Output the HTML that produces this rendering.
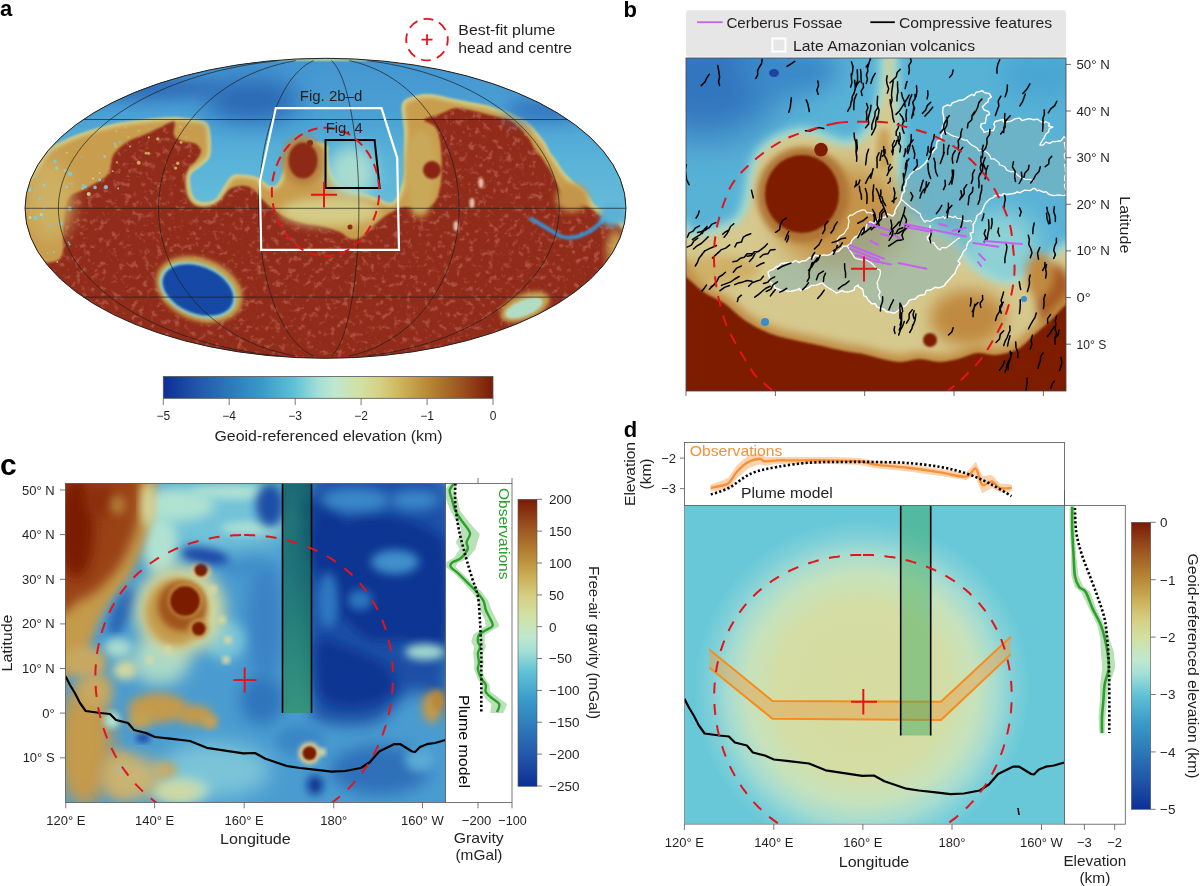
<!DOCTYPE html>
<html><head><meta charset="utf-8"><title>Figure</title>
<style>html,body{margin:0;padding:0;background:#fff;width:1200px;height:886px;overflow:hidden}svg{display:block}text{font-family:'Liberation Sans', Arial, sans-serif}</style>
</head><body>
<svg width="1200" height="886" viewBox="0 0 1200 886" font-family="'Liberation Sans', Arial, sans-serif">
<defs><clipPath id="mollclip"><ellipse cx="325.5" cy="208.3" rx="300.5" ry="150.0"/></clipPath><filter id="b1" x="-20%" y="-20%" width="140%" height="140%"><feGaussianBlur stdDeviation="1"/></filter><filter id="b2" x="-20%" y="-20%" width="140%" height="140%"><feGaussianBlur stdDeviation="2"/></filter><filter id="b3" x="-20%" y="-20%" width="140%" height="140%"><feGaussianBlur stdDeviation="3"/></filter><filter id="b5" x="-30%" y="-30%" width="160%" height="160%"><feGaussianBlur stdDeviation="5"/></filter><filter id="b8" x="-50%" y="-50%" width="200%" height="200%"><feGaussianBlur stdDeviation="8"/></filter><filter id="b12" x="-50%" y="-50%" width="200%" height="200%"><feGaussianBlur stdDeviation="12"/></filter><filter id="speck" x="0" y="0" width="100%" height="100%" color-interpolation-filters="sRGB"><feTurbulence type="fractalNoise" baseFrequency="0.16" numOctaves="3" seed="5" result="n"/><feColorMatrix in="n" type="matrix" values="0 0 0 0 0.85  0 0 0 0 0.55  0 0 0 0 0.5  4.5 0 0 0 -2.45"/></filter><linearGradient id="elevH" x1="0" y1="0" x2="1" y2="0"><stop offset="0" stop-color="#0c2f94"/><stop offset="0.1" stop-color="#2155a8"/><stop offset="0.2" stop-color="#2d78b8"/><stop offset="0.3" stop-color="#3a9ac8"/><stop offset="0.4" stop-color="#62c2d6"/><stop offset="0.47" stop-color="#a2dfd6"/><stop offset="0.52" stop-color="#bfe8cf"/><stop offset="0.6" stop-color="#d2e0a0"/><stop offset="0.66" stop-color="#d6cf84"/><stop offset="0.72" stop-color="#cdb45c"/><stop offset="0.8" stop-color="#b88a38"/><stop offset="0.9" stop-color="#9c5520"/><stop offset="1.0" stop-color="#7a1a06"/></linearGradient><linearGradient id="elevV" x1="0" y1="1" x2="0" y2="0"><stop offset="0" stop-color="#0c2f94"/><stop offset="0.1" stop-color="#2155a8"/><stop offset="0.2" stop-color="#2d78b8"/><stop offset="0.3" stop-color="#3a9ac8"/><stop offset="0.4" stop-color="#62c2d6"/><stop offset="0.47" stop-color="#a2dfd6"/><stop offset="0.52" stop-color="#bfe8cf"/><stop offset="0.6" stop-color="#d2e0a0"/><stop offset="0.66" stop-color="#d6cf84"/><stop offset="0.72" stop-color="#cdb45c"/><stop offset="0.8" stop-color="#b88a38"/><stop offset="0.9" stop-color="#9c5520"/><stop offset="1.0" stop-color="#7a1a06"/></linearGradient><linearGradient id="northblue" x1="0" y1="60" x2="0" y2="210" gradientUnits="userSpaceOnUse"><stop offset="0" stop-color="#4496d0"/><stop offset="0.35" stop-color="#4aa0d4"/><stop offset="0.65" stop-color="#58b2d8"/><stop offset="1" stop-color="#66bcd9"/></linearGradient><clipPath id="bclip"><rect x="686" y="58" width="380" height="333"/></clipPath><filter id="bb20" x="-50%" y="-50%" width="200%" height="200%"><feGaussianBlur stdDeviation="20"/></filter><clipPath id="cclip"><rect x="65.5" y="483.5" width="380.0" height="319.0"/></clipPath><filter id="b4" x="-50%" y="-50%" width="200%" height="200%"><feGaussianBlur stdDeviation="4"/></filter><filter id="b6" x="-50%" y="-50%" width="200%" height="200%"><feGaussianBlur stdDeviation="6"/></filter><filter id="b10" x="-50%" y="-50%" width="200%" height="200%"><feGaussianBlur stdDeviation="10"/></filter><linearGradient id="stripg" x1="0" y1="484" x2="0" y2="713" gradientUnits="userSpaceOnUse"><stop offset="0" stop-color="#0c5a5c"/><stop offset="0.4" stop-color="#166c62"/><stop offset="1" stop-color="#2f9468"/></linearGradient><clipPath id="csideclip"><rect x="445.5" y="483.5" width="66.5" height="319"/></clipPath><clipPath id="dclip"><rect x="684.4" y="505.5" width="380.1" height="318.70000000000005"/></clipPath><radialGradient id="dgrad" cx="862" cy="688" r="168" gradientUnits="userSpaceOnUse"><stop offset="0" stop-color="#d6dba0"/><stop offset="0.5" stop-color="#d4dda4"/><stop offset="0.68" stop-color="#c6e2bc"/><stop offset="0.8" stop-color="#a6dcd0"/><stop offset="0.9" stop-color="#80d0d8"/><stop offset="1" stop-color="#68c8d8"/></radialGradient></defs>
<g clip-path="url(#mollclip)"><rect x="20" y="50" width="615" height="315" fill="#922c1a"/><rect x="20" y="50" width="615" height="315" filter="url(#speck)" opacity="0.38"/><path d="M10.0,262.0 C12.5,300.7 16.7,262.5 25.0,262.0 C33.3,261.5 53.4,265.0 59.7,259.0 C66.0,253.0 62.1,234.5 63.0,226.0 C63.9,217.5 63.8,213.0 65.0,208.0 C66.2,203.0 67.5,199.0 70.5,196.0 C73.5,193.0 78.8,192.2 83.0,190.0 C87.2,187.8 92.1,185.3 96.0,183.0 C99.9,180.7 104.3,178.4 106.6,176.0 C108.9,173.6 108.8,172.3 110.0,168.6 C111.2,164.9 111.0,158.5 114.0,154.0 C117.0,149.5 122.7,144.8 128.0,141.5 C133.3,138.2 140.5,136.4 146.0,134.0 C151.5,131.6 157.0,129.0 161.0,127.0 C165.0,125.0 167.7,123.0 170.0,122.0 C172.3,121.0 174.3,118.8 175.0,121.0 C175.7,123.2 172.8,131.7 174.0,135.0 C175.2,138.3 178.5,139.6 182.0,141.0 C185.5,142.4 191.8,141.8 195.0,143.5 C198.2,145.2 201.0,147.9 201.0,151.0 C201.0,154.1 197.1,158.9 195.0,162.0 C192.9,165.1 190.1,166.7 188.6,169.6 C187.1,172.5 186.2,175.4 186.0,179.6 C185.8,183.8 185.9,190.4 187.4,194.5 C188.9,198.6 191.5,202.5 194.8,204.4 C198.1,206.3 203.2,206.5 207.3,205.7 C211.5,204.9 216.4,201.9 219.7,199.4 C223.0,196.9 224.5,192.8 227.0,190.7 C229.5,188.6 231.7,187.8 234.6,187.0 C237.5,186.2 241.2,185.4 244.5,185.8 C247.8,186.2 252.0,187.6 254.5,189.5 C257.0,191.4 258.3,195.6 259.4,197.0 C260.5,198.4 259.6,196.7 261.0,198.0 C262.4,199.3 265.3,202.7 268.0,205.0 C270.7,207.3 274.0,210.0 277.0,212.0 C280.0,214.0 281.5,215.2 286.0,217.0 C290.5,218.8 298.0,221.5 304.0,223.0 C310.0,224.5 316.0,224.5 322.0,226.0 C328.0,227.5 335.2,229.8 340.0,232.0 C344.8,234.2 347.3,238.2 351.0,239.0 C354.7,239.8 358.3,239.2 362.0,237.0 C365.7,234.8 369.2,229.5 373.0,226.0 C376.8,222.5 380.5,219.0 385.0,216.0 C389.5,213.0 395.8,209.5 400.0,208.0 C404.2,206.5 406.7,207.0 410.0,207.0 C413.3,207.0 417.3,207.8 420.0,208.0 C422.7,208.2 423.3,209.3 426.0,208.0 C428.7,206.7 433.5,204.7 436.0,200.0 C438.5,195.3 440.2,188.3 441.0,180.0 C441.8,171.7 441.8,158.7 441.0,150.0 C440.2,141.3 438.8,133.0 436.0,128.0 C433.2,123.0 423.3,122.3 424.0,120.0 C424.7,117.7 434.7,116.0 440.0,114.0 C445.3,112.0 450.3,108.5 456.0,108.0 C461.7,107.5 467.7,109.7 474.0,111.0 C480.3,112.3 488.0,114.5 494.0,116.0 C500.0,117.5 505.7,118.0 510.0,120.0 C514.3,122.0 516.7,124.7 520.0,128.0 C523.3,131.3 527.7,136.7 530.0,140.0 C532.3,143.3 532.0,145.0 534.0,148.0 C536.0,151.0 539.3,154.3 542.0,158.0 C544.7,161.7 547.7,166.0 550.0,170.0 C552.3,174.0 554.0,178.3 556.0,182.0 C558.0,185.7 558.8,189.0 562.0,192.0 C565.2,195.0 570.3,197.3 575.0,200.0 C579.7,202.7 585.8,205.5 590.0,208.0 C594.2,210.5 595.8,212.7 600.0,215.0 C604.2,217.3 608.3,220.3 615.0,222.0 C621.7,223.7 635.8,257.0 640.0,225.0 C644.2,193.0 745.0,62.5 640.0,30.0 C535.0,-2.5 115.0,-8.7 10.0,30.0 C-95.0,68.7 7.5,223.3 10.0,262.0 Z" fill="#c89d4e" filter="url(#b1)"/><ellipse cx="50" cy="200" rx="22" ry="40" fill="#cdb062" filter="url(#b8)"/><path d="M10.0,190.0 C13.7,213.7 25.8,178.6 32.0,172.0 C38.2,165.4 41.5,155.9 47.0,150.5 C52.5,145.1 59.0,142.7 65.0,139.7 C71.0,136.7 77.0,134.6 83.0,132.5 C89.0,130.4 95.0,128.7 101.0,127.0 C107.0,125.3 113.0,123.8 119.0,122.6 C125.0,121.4 131.0,120.8 137.0,120.0 C143.0,119.2 149.0,118.5 155.0,118.0 C161.0,117.5 168.5,117.1 173.0,117.0 C177.5,116.9 177.3,117.0 182.0,117.5 C186.7,118.0 196.6,118.8 201.0,120.0 C205.4,121.2 206.8,121.5 208.5,125.0 C210.2,128.5 210.8,135.7 211.0,141.0 C211.2,146.3 211.5,152.8 209.8,157.0 C208.1,161.2 204.1,163.1 201.0,166.0 C197.9,168.9 192.8,171.5 191.0,174.6 C189.2,177.7 190.1,180.8 190.5,184.5 C190.9,188.2 191.6,194.1 193.6,197.0 C195.6,199.9 198.8,201.6 202.3,202.0 C205.8,202.4 211.4,201.5 214.7,199.4 C218.0,197.3 219.7,192.8 222.0,189.5 C224.3,186.2 226.3,182.1 228.4,179.6 C230.5,177.1 231.9,175.4 234.6,174.6 C237.3,173.8 240.8,174.2 244.5,174.6 C248.2,175.0 253.7,175.8 257.0,177.0 C260.3,178.2 262.2,180.5 264.4,182.0 C266.6,183.5 267.9,185.6 270.0,186.0 C272.1,186.4 274.9,186.4 277.0,184.3 C279.1,182.2 281.0,177.6 282.5,173.3 C284.0,169.0 284.5,163.0 286.0,158.7 C287.5,154.4 288.9,150.5 291.7,147.7 C294.5,144.9 298.4,142.9 302.7,142.0 C307.0,141.1 313.1,141.3 317.3,142.0 C321.5,142.7 326.2,143.8 328.0,146.0 C329.8,148.2 327.3,150.4 328.0,155.0 C328.7,159.6 328.9,167.8 332.0,173.3 C335.1,178.8 341.2,184.6 346.7,188.0 C352.2,191.4 359.5,191.7 365.0,193.5 C370.5,195.3 375.4,197.5 379.7,199.0 C384.0,200.5 387.6,203.4 390.7,202.7 C393.8,202.0 395.8,199.6 398.0,195.0 C400.2,190.4 403.0,182.5 404.0,175.0 C405.0,167.5 404.0,157.5 404.0,150.0 C404.0,142.5 404.3,137.7 404.0,130.0 C403.7,122.3 400.3,109.7 402.0,104.0 C403.7,98.3 409.3,97.7 414.0,96.0 C418.7,94.3 424.0,93.7 430.0,94.0 C436.0,94.3 443.3,96.7 450.0,98.0 C456.7,99.3 464.0,100.8 470.0,102.0 C476.0,103.2 480.7,103.7 486.0,105.0 C491.3,106.3 496.7,108.2 502.0,110.0 C507.3,111.8 513.3,113.7 518.0,116.0 C522.7,118.3 526.3,120.7 530.0,124.0 C533.7,127.3 537.3,132.7 540.0,136.0 C542.7,139.3 544.3,141.3 546.0,144.0 C547.7,146.7 548.3,149.3 550.0,152.0 C551.7,154.7 553.7,156.7 556.0,160.0 C558.3,163.3 561.0,168.3 564.0,172.0 C567.0,175.7 570.7,179.0 574.0,182.0 C577.3,185.0 581.3,187.3 584.0,190.0 C586.7,192.7 588.0,195.3 590.0,198.0 C592.0,200.7 592.7,203.7 596.0,206.0 C599.3,208.3 602.7,210.5 610.0,212.0 C617.3,213.5 635.0,245.3 640.0,215.0 C645.0,184.7 745.0,60.8 640.0,30.0 C535.0,-0.8 115.0,3.3 10.0,30.0 C-95.0,56.7 6.3,166.3 10.0,190.0 Z" fill="none" stroke="#d3d08a" stroke-width="7" filter="url(#b2)"/><path d="M10.0,190.0 C13.7,213.7 25.8,178.6 32.0,172.0 C38.2,165.4 41.5,155.9 47.0,150.5 C52.5,145.1 59.0,142.7 65.0,139.7 C71.0,136.7 77.0,134.6 83.0,132.5 C89.0,130.4 95.0,128.7 101.0,127.0 C107.0,125.3 113.0,123.8 119.0,122.6 C125.0,121.4 131.0,120.8 137.0,120.0 C143.0,119.2 149.0,118.5 155.0,118.0 C161.0,117.5 168.5,117.1 173.0,117.0 C177.5,116.9 177.3,117.0 182.0,117.5 C186.7,118.0 196.6,118.8 201.0,120.0 C205.4,121.2 206.8,121.5 208.5,125.0 C210.2,128.5 210.8,135.7 211.0,141.0 C211.2,146.3 211.5,152.8 209.8,157.0 C208.1,161.2 204.1,163.1 201.0,166.0 C197.9,168.9 192.8,171.5 191.0,174.6 C189.2,177.7 190.1,180.8 190.5,184.5 C190.9,188.2 191.6,194.1 193.6,197.0 C195.6,199.9 198.8,201.6 202.3,202.0 C205.8,202.4 211.4,201.5 214.7,199.4 C218.0,197.3 219.7,192.8 222.0,189.5 C224.3,186.2 226.3,182.1 228.4,179.6 C230.5,177.1 231.9,175.4 234.6,174.6 C237.3,173.8 240.8,174.2 244.5,174.6 C248.2,175.0 253.7,175.8 257.0,177.0 C260.3,178.2 262.2,180.5 264.4,182.0 C266.6,183.5 267.9,185.6 270.0,186.0 C272.1,186.4 274.9,186.4 277.0,184.3 C279.1,182.2 281.0,177.6 282.5,173.3 C284.0,169.0 284.5,163.0 286.0,158.7 C287.5,154.4 288.9,150.5 291.7,147.7 C294.5,144.9 298.4,142.9 302.7,142.0 C307.0,141.1 313.1,141.3 317.3,142.0 C321.5,142.7 326.2,143.8 328.0,146.0 C329.8,148.2 327.3,150.4 328.0,155.0 C328.7,159.6 328.9,167.8 332.0,173.3 C335.1,178.8 341.2,184.6 346.7,188.0 C352.2,191.4 359.5,191.7 365.0,193.5 C370.5,195.3 375.4,197.5 379.7,199.0 C384.0,200.5 387.6,203.4 390.7,202.7 C393.8,202.0 395.8,199.6 398.0,195.0 C400.2,190.4 403.0,182.5 404.0,175.0 C405.0,167.5 404.0,157.5 404.0,150.0 C404.0,142.5 404.3,137.7 404.0,130.0 C403.7,122.3 400.3,109.7 402.0,104.0 C403.7,98.3 409.3,97.7 414.0,96.0 C418.7,94.3 424.0,93.7 430.0,94.0 C436.0,94.3 443.3,96.7 450.0,98.0 C456.7,99.3 464.0,100.8 470.0,102.0 C476.0,103.2 480.7,103.7 486.0,105.0 C491.3,106.3 496.7,108.2 502.0,110.0 C507.3,111.8 513.3,113.7 518.0,116.0 C522.7,118.3 526.3,120.7 530.0,124.0 C533.7,127.3 537.3,132.7 540.0,136.0 C542.7,139.3 544.3,141.3 546.0,144.0 C547.7,146.7 548.3,149.3 550.0,152.0 C551.7,154.7 553.7,156.7 556.0,160.0 C558.3,163.3 561.0,168.3 564.0,172.0 C567.0,175.7 570.7,179.0 574.0,182.0 C577.3,185.0 581.3,187.3 584.0,190.0 C586.7,192.7 588.0,195.3 590.0,198.0 C592.0,200.7 592.7,203.7 596.0,206.0 C599.3,208.3 602.7,210.5 610.0,212.0 C617.3,213.5 635.0,245.3 640.0,215.0 C645.0,184.7 745.0,60.8 640.0,30.0 C535.0,-0.8 115.0,3.3 10.0,30.0 C-95.0,56.7 6.3,166.3 10.0,190.0 Z" fill="url(#northblue)" filter="url(#b1)"/><ellipse cx="252" cy="100" rx="48" ry="22" fill="#2a68b5" filter="url(#b12)"/><ellipse cx="140" cy="88" rx="85" ry="12" fill="#2f6cb8" filter="url(#b8)"/><ellipse cx="545" cy="110" rx="40" ry="12" fill="#3478c0" filter="url(#b8)"/><ellipse cx="330" cy="59" rx="110" ry="2" fill="#b0d0a0" filter="url(#b1)"/><ellipse cx="352" cy="172" rx="24" ry="26" fill="#a8dcd0" filter="url(#b8)"/><ellipse cx="330" cy="212" rx="50" ry="14" fill="#d4cc86" filter="url(#b5)"/><ellipse cx="303" cy="161" rx="21" ry="25" fill="#b88440" filter="url(#b3)"/><ellipse cx="303" cy="160.5" rx="14.5" ry="18" fill="#8c2a14" filter="url(#b1)"/><circle cx="310" cy="143" r="3" fill="#8c2a14"/><circle cx="350" cy="227" r="2.5" fill="#8c2a14"/><ellipse cx="421" cy="168" rx="16" ry="38" fill="#c9a85a" filter="url(#b3)"/><ellipse cx="420" cy="205" rx="10" ry="12" fill="#c9a85a" filter="url(#b3)"/><circle cx="432" cy="170" r="9" fill="#8a2414" filter="url(#b1)"/><ellipse cx="481" cy="183" rx="2.5" ry="5" fill="#e8c0b0" filter="url(#b1)"/><ellipse cx="472" cy="203" rx="2.5" ry="5" fill="#e8c0b0" filter="url(#b1)"/><ellipse cx="456" cy="226" rx="2.5" ry="5" fill="#e8c0b0" filter="url(#b1)"/><ellipse cx="572" cy="198" rx="16" ry="14" fill="#c49648" filter="url(#b3)"/><path d="M530,218 C540,224 550,230 560,236 C570,240 582,236 592,230 C600,224 606,218 610,210" fill="none" stroke="#3d8ecb" stroke-width="4" filter="url(#b1)"/><ellipse cx="612" cy="215" rx="12" ry="12" fill="#5ab0d6" filter="url(#b3)"/><ellipse cx="616" cy="250" rx="9" ry="20" fill="#c8a050" filter="url(#b5)"/><g opacity="0.9"><circle cx="69.6" cy="208.3" r="2.1" fill="#7ecad8"/><circle cx="69.6" cy="244.3" r="1.1" fill="#7ecad8"/><circle cx="36.7" cy="177.0" r="0.9" fill="#7ecad8"/><circle cx="82.8" cy="188.3" r="1.4" fill="#8fd2d4"/><circle cx="33.8" cy="144.3" r="2.0" fill="#7ecad8"/><circle cx="99.6" cy="179.8" r="1.6" fill="#8fd2d4"/><circle cx="70.1" cy="173.9" r="2.2" fill="#7ecad8"/><circle cx="93.1" cy="178.5" r="1.1" fill="#d6d68e"/><circle cx="30.7" cy="208.7" r="1.0" fill="#7ecad8"/><circle cx="105.9" cy="187.2" r="2.1" fill="#7ecad8"/><circle cx="47.6" cy="253.1" r="0.9" fill="#7ecad8"/><circle cx="118.2" cy="188.5" r="0.9" fill="#8fd2d4"/><circle cx="99.6" cy="172.9" r="0.9" fill="#d6d68e"/><circle cx="29.4" cy="190.0" r="2.1" fill="#8fd2d4"/><circle cx="50.7" cy="152.3" r="0.9" fill="#7ecad8"/><circle cx="44.3" cy="208.2" r="1.4" fill="#8fd2d4"/><circle cx="66.6" cy="186.8" r="1.4" fill="#8fd2d4"/><circle cx="28.0" cy="245.4" r="2.2" fill="#d6d68e"/><circle cx="119.8" cy="142.4" r="1.1" fill="#7ecad8"/><circle cx="31.9" cy="157.9" r="1.4" fill="#7ecad8"/><circle cx="99.1" cy="180.1" r="1.2" fill="#7ecad8"/><circle cx="34.8" cy="165.5" r="1.7" fill="#7ecad8"/><circle cx="83.3" cy="185.3" r="1.4" fill="#7ecad8"/><circle cx="104.6" cy="156.6" r="1.3" fill="#8fd2d4"/><circle cx="56.6" cy="167.9" r="1.7" fill="#8fd2d4"/><circle cx="42.6" cy="216.7" r="1.6" fill="#7ecad8"/><circle cx="66.8" cy="152.7" r="0.9" fill="#d6d68e"/><circle cx="49.9" cy="226.0" r="1.2" fill="#7ecad8"/><circle cx="55.0" cy="161.4" r="1.8" fill="#7ecad8"/><circle cx="39.6" cy="198.5" r="1.7" fill="#7ecad8"/><circle cx="53.8" cy="251.9" r="1.1" fill="#7ecad8"/><circle cx="34.4" cy="190.2" r="1.1" fill="#7ecad8"/><circle cx="44.2" cy="185.0" r="1.6" fill="#8fd2d4"/><circle cx="36.5" cy="156.9" r="1.4" fill="#d6d68e"/><circle cx="81.8" cy="157.1" r="0.8" fill="#7ecad8"/><circle cx="71.7" cy="183.6" r="1.2" fill="#7ecad8"/><circle cx="30.0" cy="217.6" r="1.5" fill="#d6d68e"/><circle cx="57.3" cy="261.9" r="0.9" fill="#d6d68e"/><circle cx="60.4" cy="223.6" r="2.1" fill="#7ecad8"/><circle cx="114.9" cy="143.7" r="1.5" fill="#7ecad8"/><circle cx="85.5" cy="186.6" r="1.6" fill="#7ecad8"/><circle cx="35.4" cy="218.0" r="2.2" fill="#7ecad8"/><circle cx="95.0" cy="187.4" r="1.8" fill="#7ecad8"/><circle cx="68.5" cy="242.3" r="0.9" fill="#7ecad8"/><circle cx="56.5" cy="150.7" r="0.8" fill="#7ecad8"/><circle cx="112.7" cy="171.2" r="0.8" fill="#d6d68e"/><circle cx="41.2" cy="214.6" r="1.5" fill="#d6d68e"/><circle cx="88.7" cy="193.9" r="2.0" fill="#d6d68e"/><circle cx="65.2" cy="170.6" r="1.7" fill="#8fd2d4"/><circle cx="181.0" cy="142.3" r="1.5" fill="#d0b468"/><circle cx="138.7" cy="131.1" r="1.4" fill="#d0b468"/><circle cx="177.8" cy="163.2" r="1.7" fill="#d0b468"/><circle cx="186.3" cy="137.5" r="1.0" fill="#d0b468"/><circle cx="148.8" cy="137.4" r="1.1" fill="#d0b468"/><circle cx="146.0" cy="153.2" r="1.4" fill="#d0b468"/><circle cx="138.7" cy="162.8" r="2.0" fill="#d0b468"/><circle cx="148.9" cy="128.4" r="0.8" fill="#d0b468"/><circle cx="180.5" cy="126.9" r="1.7" fill="#d0b468"/><circle cx="157.8" cy="138.9" r="1.7" fill="#d0b468"/><circle cx="116.4" cy="131.1" r="1.3" fill="#d0b468"/><circle cx="116.9" cy="162.3" r="1.1" fill="#d0b468"/><circle cx="125.6" cy="127.1" r="1.6" fill="#d0b468"/><circle cx="148.5" cy="153.3" r="1.6" fill="#d0b468"/><circle cx="175.6" cy="168.1" r="1.6" fill="#d0b468"/><circle cx="130.0" cy="146.4" r="1.0" fill="#d0b468"/><circle cx="115.8" cy="146.2" r="1.7" fill="#d0b468"/><circle cx="128.4" cy="137.3" r="1.2" fill="#d0b468"/></g><ellipse cx="199" cy="289" rx="45" ry="31" transform="rotate(22 198 290)" fill="#c4a050" filter="url(#b2)"/><ellipse cx="198" cy="290" rx="40" ry="26" transform="rotate(22 198 290)" fill="#8fd0c8" filter="url(#b1)"/><ellipse cx="198" cy="290" rx="37" ry="23.5" transform="rotate(22 198 290)" fill="#1848a6" filter="url(#b1)"/><ellipse cx="525" cy="307" rx="26" ry="13" transform="rotate(-22 525 307)" fill="#c4a050" filter="url(#b2)"/><ellipse cx="524" cy="308" rx="20" ry="8" transform="rotate(-22 524 308)" fill="#b2dcc4" filter="url(#b1)"/></g>
<g fill="none" stroke="#1a1a1a" stroke-width="0.8" stroke-opacity="0.85"><polyline points="277.8,355.9 263.2,354.2 250.2,352.2 238.4,350.1 227.5,347.8 217.3,345.5 207.7,342.9 198.7,340.3 190.1,337.6 181.9,334.8 174.1,331.9 166.6,328.9 159.5,325.8 152.6,322.7 146.1,319.4 139.9,316.2 133.9,312.8 128.2,309.4 122.8,306.0 117.6,302.5 112.6,298.9 107.9,295.3 103.4,291.6 99.2,287.9 95.1,284.2 91.3,280.4 87.7,276.6 84.3,272.8 81.2,268.9 78.2,265.0 75.5,261.1 72.9,257.1 70.6,253.1 68.5,249.1 66.5,245.1 64.8,241.0 63.3,237.0 62.0,232.9 60.9,228.8 60.0,224.7 59.3,220.6 58.8,216.5 58.5,212.4 58.4,208.3 58.5,204.2 58.8,200.1 59.3,196.0 60.0,191.9 60.9,187.8 62.0,183.7 63.3,179.6 64.8,175.6 66.5,171.5 68.5,167.5 70.6,163.5 72.9,159.5 75.5,155.5 78.2,151.6 81.2,147.7 84.3,143.8 87.7,140.0 91.3,136.2 95.1,132.4 99.2,128.7 103.4,125.0 107.9,121.3 112.6,117.7 117.6,114.1 122.8,110.6 128.2,107.2 133.9,103.8 139.9,100.4 146.1,97.2 152.6,93.9 159.5,90.8 166.6,87.7 174.1,84.7 181.9,81.8 190.1,79.0 198.7,76.3 207.7,73.7 217.3,71.1 227.5,68.8 238.4,66.5 250.2,64.4 263.2,62.4 277.8,60.7"/><polyline points="295.7,355.9 286.6,354.2 278.5,352.2 271.1,350.1 264.3,347.8 257.9,345.5 251.9,342.9 246.2,340.3 240.8,337.6 235.7,334.8 230.8,331.9 226.2,328.9 221.7,325.8 217.5,322.7 213.4,319.4 209.5,316.2 205.8,312.8 202.2,309.4 198.8,306.0 195.5,302.5 192.5,298.9 189.5,295.3 186.7,291.6 184.0,287.9 181.5,284.2 179.1,280.4 176.9,276.6 174.8,272.8 172.8,268.9 170.9,265.0 169.2,261.1 167.6,257.1 166.2,253.1 164.9,249.1 163.7,245.1 162.6,241.0 161.6,237.0 160.8,232.9 160.1,228.8 159.6,224.7 159.1,220.6 158.8,216.5 158.6,212.4 158.6,208.3 158.6,204.2 158.8,200.1 159.1,196.0 159.6,191.9 160.1,187.8 160.8,183.7 161.6,179.6 162.6,175.6 163.7,171.5 164.9,167.5 166.2,163.5 167.6,159.5 169.2,155.5 170.9,151.6 172.8,147.7 174.8,143.8 176.9,140.0 179.1,136.2 181.5,132.4 184.0,128.7 186.7,125.0 189.5,121.3 192.5,117.7 195.5,114.1 198.8,110.6 202.2,107.2 205.8,103.8 209.5,100.4 213.4,97.2 217.5,93.9 221.7,90.8 226.2,87.7 230.8,84.7 235.7,81.8 240.8,79.0 246.2,76.3 251.9,73.7 257.9,71.1 264.3,68.8 271.1,66.5 278.5,64.4 286.6,62.4 295.7,60.7"/><polyline points="313.6,355.9 309.9,354.2 306.7,352.2 303.7,350.1 301.0,347.8 298.5,345.5 296.1,342.9 293.8,340.3 291.6,337.6 289.6,334.8 287.6,331.9 285.8,328.9 284.0,325.8 282.3,322.7 280.7,319.4 279.1,316.2 277.6,312.8 276.2,309.4 274.8,306.0 273.5,302.5 272.3,298.9 271.1,295.3 270.0,291.6 268.9,287.9 267.9,284.2 267.0,280.4 266.1,276.6 265.2,272.8 264.4,268.9 263.7,265.0 263.0,261.1 262.4,257.1 261.8,253.1 261.2,249.1 260.8,245.1 260.3,241.0 260.0,237.0 259.6,232.9 259.4,228.8 259.1,224.7 258.9,220.6 258.8,216.5 258.7,212.4 258.7,208.3 258.7,204.2 258.8,200.1 258.9,196.0 259.1,191.9 259.4,187.8 259.6,183.7 260.0,179.6 260.3,175.6 260.8,171.5 261.2,167.5 261.8,163.5 262.4,159.5 263.0,155.5 263.7,151.6 264.4,147.7 265.2,143.8 266.1,140.0 267.0,136.2 267.9,132.4 268.9,128.7 270.0,125.0 271.1,121.3 272.3,117.7 273.5,114.1 274.8,110.6 276.2,107.2 277.6,103.8 279.1,100.4 280.7,97.2 282.3,93.9 284.0,90.8 285.8,87.7 287.6,84.7 289.6,81.8 291.6,79.0 293.8,76.3 296.1,73.7 298.5,71.1 301.0,68.8 303.7,66.5 306.7,64.4 309.9,62.4 313.6,60.7"/><polyline points="331.5,355.9 333.3,354.2 334.9,352.2 336.4,350.1 337.7,347.8 339.0,345.5 340.2,342.9 341.4,340.3 342.4,337.6 343.5,334.8 344.4,331.9 345.4,328.9 346.3,325.8 347.1,322.7 347.9,319.4 348.7,316.2 349.4,312.8 350.2,309.4 350.8,306.0 351.5,302.5 352.1,298.9 352.7,295.3 353.3,291.6 353.8,287.9 354.3,284.2 354.8,280.4 355.2,276.6 355.6,272.8 356.0,268.9 356.4,265.0 356.8,261.1 357.1,257.1 357.4,253.1 357.6,249.1 357.9,245.1 358.1,241.0 358.3,237.0 358.4,232.9 358.6,228.8 358.7,224.7 358.8,220.6 358.8,216.5 358.9,212.4 358.9,208.3 358.9,204.2 358.8,200.1 358.8,196.0 358.7,191.9 358.6,187.8 358.4,183.7 358.3,179.6 358.1,175.6 357.9,171.5 357.6,167.5 357.4,163.5 357.1,159.5 356.8,155.5 356.4,151.6 356.0,147.7 355.6,143.8 355.2,140.0 354.8,136.2 354.3,132.4 353.8,128.7 353.3,125.0 352.7,121.3 352.1,117.7 351.5,114.1 350.8,110.6 350.2,107.2 349.4,103.8 348.7,100.4 347.9,97.2 347.1,93.9 346.3,90.8 345.4,87.7 344.4,84.7 343.5,81.8 342.4,79.0 341.4,76.3 340.2,73.7 339.0,71.1 337.7,68.8 336.4,66.5 334.9,64.4 333.3,62.4 331.5,60.7"/><polyline points="349.3,355.9 356.7,354.2 363.1,352.2 369.0,350.1 374.5,347.8 379.6,345.5 384.4,342.9 388.9,340.3 393.2,337.6 397.3,334.8 401.2,331.9 405.0,328.9 408.5,325.8 411.9,322.7 415.2,319.4 418.3,316.2 421.3,312.8 424.1,309.4 426.9,306.0 429.5,302.5 431.9,298.9 434.3,295.3 436.5,291.6 438.7,287.9 440.7,284.2 442.6,280.4 444.4,276.6 446.1,272.8 447.7,268.9 449.2,265.0 450.5,261.1 451.8,257.1 453.0,253.1 454.0,249.1 455.0,245.1 455.8,241.0 456.6,237.0 457.2,232.9 457.8,228.8 458.3,224.7 458.6,220.6 458.9,216.5 459.0,212.4 459.1,208.3 459.0,204.2 458.9,200.1 458.6,196.0 458.3,191.9 457.8,187.8 457.2,183.7 456.6,179.6 455.8,175.6 455.0,171.5 454.0,167.5 453.0,163.5 451.8,159.5 450.5,155.5 449.2,151.6 447.7,147.7 446.1,143.8 444.4,140.0 442.6,136.2 440.7,132.4 438.7,128.7 436.5,125.0 434.3,121.3 431.9,117.7 429.5,114.1 426.9,110.6 424.1,107.2 421.3,103.8 418.3,100.4 415.2,97.2 411.9,93.9 408.5,90.8 405.0,87.7 401.2,84.7 397.3,81.8 393.2,79.0 388.9,76.3 384.4,73.7 379.6,71.1 374.5,68.8 369.0,66.5 363.1,64.4 356.7,62.4 349.3,60.7"/><polyline points="367.2,355.9 380.0,354.2 391.4,352.2 401.7,350.1 411.2,347.8 420.1,345.5 428.5,342.9 436.5,340.3 444.0,337.6 451.2,334.8 458.0,331.9 464.5,328.9 470.8,325.8 476.7,322.7 482.5,319.4 487.9,316.2 493.1,312.8 498.1,309.4 502.9,306.0 507.4,302.5 511.8,298.9 515.9,295.3 519.8,291.6 523.6,287.9 527.1,284.2 530.4,280.4 533.6,276.6 536.5,272.8 539.3,268.9 541.9,265.0 544.3,261.1 546.5,257.1 548.6,253.1 550.4,249.1 552.1,245.1 553.6,241.0 554.9,237.0 556.1,232.9 557.0,228.8 557.8,224.7 558.4,220.6 558.9,216.5 559.1,212.4 559.2,208.3 559.1,204.2 558.9,200.1 558.4,196.0 557.8,191.9 557.0,187.8 556.1,183.7 554.9,179.6 553.6,175.6 552.1,171.5 550.4,167.5 548.6,163.5 546.5,159.5 544.3,155.5 541.9,151.6 539.3,147.7 536.5,143.8 533.6,140.0 530.4,136.2 527.1,132.4 523.6,128.7 519.8,125.0 515.9,121.3 511.8,117.7 507.4,114.1 502.9,110.6 498.1,107.2 493.1,103.8 487.9,100.4 482.5,97.2 476.7,93.9 470.8,90.8 464.5,87.7 458.0,84.7 451.2,81.8 444.0,79.0 436.5,76.3 428.5,73.7 420.1,71.1 411.2,68.8 401.7,66.5 391.4,64.4 380.0,62.4 367.2,60.7"/><line x1="83.3" y1="297.1" x2="567.7" y2="297.1"/><line x1="25.0" y1="208.3" x2="626.0" y2="208.3"/><line x1="83.3" y1="119.5" x2="567.7" y2="119.5"/></g>
<ellipse cx="325.5" cy="208.3" rx="300.5" ry="150.0" fill="none" stroke="#222" stroke-width="1"/>
<polygon points="275.8,108.1 381.5,108.1 397.2,157.8 399.0,249.9 261.2,249.9 259.9,181.3" fill="none" stroke="#fff" stroke-width="2.2" stroke-linejoin="miter"/>
<polygon points="325.5,140.1 374.6,140.1 379.7,188.1 325.5,188.1" fill="none" stroke="#000" stroke-width="2"/>
<polygon points="325.5,127.7 327.0,127.8 328.4,127.8 329.9,128.0 331.4,128.1 332.8,128.4 334.3,128.6 335.7,128.9 337.2,129.3 338.6,129.7 340.0,130.2 341.4,130.7 342.8,131.3 344.2,131.9 345.6,132.5 346.9,133.2 348.3,134.0 349.6,134.7 350.9,135.6 352.1,136.4 353.4,137.3 354.6,138.3 355.8,139.2 357.0,140.2 358.2,141.3 359.3,142.4 360.4,143.5 361.5,144.6 362.6,145.8 363.6,147.0 364.6,148.2 365.6,149.5 366.5,150.8 367.4,152.1 368.3,153.4 369.2,154.8 370.0,156.2 370.7,157.6 371.5,159.0 372.2,160.4 372.9,161.9 373.5,163.4 374.2,164.9 374.7,166.4 375.3,167.9 375.8,169.5 376.3,171.0 376.7,172.6 377.1,174.2 377.5,175.7 377.8,177.3 378.1,178.9 378.4,180.5 378.6,182.1 378.8,183.8 378.9,185.4 379.0,187.0 379.1,188.6 379.2,190.3 379.2,191.9 379.1,193.5 379.1,195.1 379.0,196.8 378.8,198.4 378.7,200.0 378.5,201.6 378.2,203.2 377.9,204.8 377.6,206.4 377.3,207.9 376.9,209.5 376.5,211.1 376.0,212.6 375.6,214.1 375.0,215.7 374.5,217.2 373.9,218.7 373.3,220.1 372.7,221.6 372.0,223.0 371.3,224.4 370.6,225.8 369.8,227.2 369.0,228.6 368.2,229.9 367.4,231.2 366.5,232.5 365.6,233.8 364.7,235.0 363.7,236.2 362.7,237.4 361.7,238.5 360.7,239.6 359.7,240.7 358.6,241.8 357.5,242.8 356.4,243.8 355.3,244.8 354.1,245.7 352.9,246.6 351.8,247.5 350.6,248.3 349.3,249.1 348.1,249.8 346.8,250.5 345.6,251.2 344.3,251.8 343.0,252.4 341.7,252.9 340.4,253.4 339.1,253.9 337.7,254.3 336.4,254.7 335.1,255.0 333.7,255.3 332.3,255.5 331.0,255.7 329.6,255.9 328.2,256.0 326.9,256.1 325.5,256.1 324.1,256.1 322.8,256.0 321.4,255.9 320.0,255.7 318.7,255.5 317.3,255.3 315.9,255.0 314.6,254.7 313.3,254.3 311.9,253.9 310.6,253.4 309.3,252.9 308.0,252.4 306.7,251.8 305.4,251.2 304.2,250.5 302.9,249.8 301.7,249.1 300.4,248.3 299.2,247.5 298.1,246.6 296.9,245.7 295.7,244.8 294.6,243.8 293.5,242.8 292.4,241.8 291.3,240.7 290.3,239.6 289.3,238.5 288.3,237.4 287.3,236.2 286.3,235.0 285.4,233.8 284.5,232.5 283.6,231.2 282.8,229.9 282.0,228.6 281.2,227.2 280.4,225.8 279.7,224.4 279.0,223.0 278.3,221.6 277.7,220.1 277.1,218.7 276.5,217.2 276.0,215.7 275.4,214.1 275.0,212.6 274.5,211.1 274.1,209.5 273.7,207.9 273.4,206.4 273.1,204.8 272.8,203.2 272.5,201.6 272.3,200.0 272.2,198.4 272.0,196.8 271.9,195.1 271.9,193.5 271.8,191.9 271.8,190.3 271.9,188.6 272.0,187.0 272.1,185.4 272.2,183.8 272.4,182.1 272.6,180.5 272.9,178.9 273.2,177.3 273.5,175.7 273.9,174.2 274.3,172.6 274.7,171.0 275.2,169.5 275.7,167.9 276.3,166.4 276.8,164.9 277.5,163.4 278.1,161.9 278.8,160.4 279.5,159.0 280.3,157.6 281.0,156.2 281.8,154.8 282.7,153.4 283.6,152.1 284.5,150.8 285.4,149.5 286.4,148.2 287.4,147.0 288.4,145.8 289.5,144.6 290.6,143.5 291.7,142.4 292.8,141.3 294.0,140.2 295.2,139.2 296.4,138.3 297.6,137.3 298.9,136.4 300.1,135.6 301.4,134.7 302.7,134.0 304.1,133.2 305.4,132.5 306.8,131.9 308.2,131.3 309.6,130.7 311.0,130.2 312.4,129.7 313.8,129.3 315.3,128.9 316.7,128.6 318.2,128.4 319.6,128.1 321.1,128.0 322.6,127.8 324.0,127.8" fill="none" stroke="#e3141b" stroke-width="2" stroke-dasharray="10 6"/>
<path d="M311,194.7 H337 M324,182 V207.5" stroke="#e3141b" stroke-width="2"/>
<text x="299.8" y="100.7" font-size="14.5" textLength="62.5" lengthAdjust="spacingAndGlyphs" fill="#231f20">Fig. 2b–d</text>
<text x="325.7" y="132.7" font-size="14.5" textLength="37" lengthAdjust="spacingAndGlyphs" fill="#231f20">Fig. 4</text>
<circle cx="427" cy="39.6" r="20.8" fill="none" stroke="#e3141b" stroke-width="1.8" stroke-dasharray="10 6.3" stroke-dashoffset="4"/>
<path d="M421.5,39.6 H432.5 M427,34.2 V45" stroke="#e3141b" stroke-width="1.8"/>
<text x="458.3" y="35.1" font-size="14" textLength="97" lengthAdjust="spacingAndGlyphs" fill="#231f20">Best-fit plume</text>
<text x="458.3" y="53.1" font-size="14" textLength="113.8" lengthAdjust="spacingAndGlyphs" fill="#231f20">head and centre</text>
<rect x="163.3" y="376.5" width="329.7" height="21.8" fill="url(#elevH)" stroke="#555" stroke-width="0.8"/>
<line x1="163.3" y1="398.3" x2="163.3" y2="405" stroke="#555" stroke-width="0.8"/>
<text x="163.3" y="419.7" font-size="12" text-anchor="middle" fill="#231f20">−5</text>
<line x1="229.2" y1="398.3" x2="229.2" y2="405" stroke="#555" stroke-width="0.8"/>
<text x="229.2" y="419.7" font-size="12" text-anchor="middle" fill="#231f20">−4</text>
<line x1="295.2" y1="398.3" x2="295.2" y2="405" stroke="#555" stroke-width="0.8"/>
<text x="295.2" y="419.7" font-size="12" text-anchor="middle" fill="#231f20">−3</text>
<line x1="361.1" y1="398.3" x2="361.1" y2="405" stroke="#555" stroke-width="0.8"/>
<text x="361.1" y="419.7" font-size="12" text-anchor="middle" fill="#231f20">−2</text>
<line x1="427.1" y1="398.3" x2="427.1" y2="405" stroke="#555" stroke-width="0.8"/>
<text x="427.1" y="419.7" font-size="12" text-anchor="middle" fill="#231f20">−1</text>
<line x1="493.0" y1="398.3" x2="493.0" y2="405" stroke="#555" stroke-width="0.8"/>
<text x="493.0" y="419.7" font-size="12" text-anchor="middle" fill="#231f20">0</text>
<text x="214.5" y="440.8" font-size="14" textLength="228" lengthAdjust="spacingAndGlyphs" fill="#231f20">Geoid-referenced elevation (km)</text>
<text x="0" y="15.5" font-size="22" font-weight="bold" fill="#000">a</text>
<g clip-path="url(#bclip)"><rect x="686" y="58" width="380" height="333" fill="#58b2d6"/><ellipse cx="705" cy="80" rx="75" ry="60" fill="#3076bf" filter="url(#bb20)"/><ellipse cx="790" cy="70" rx="50" ry="25" fill="#3a88c8" filter="url(#b12)"/><ellipse cx="1040" cy="75" rx="40" ry="25" fill="#4aa6d2" filter="url(#b12)"/><ellipse cx="1000" cy="250" rx="40" ry="40" fill="#8ed2d6" filter="url(#b12)"/><path d="M686.0,238.0 C690.2,237.7 698.5,237.3 705.0,236.0 C711.5,234.7 718.8,232.7 725.0,230.0 C731.2,227.3 737.8,225.0 742.0,220.0 C746.2,215.0 748.2,206.7 750.0,200.0 C751.8,193.3 751.7,186.3 753.0,180.0 C754.3,173.7 755.5,167.3 758.0,162.0 C760.5,156.7 763.5,152.0 768.0,148.0 C772.5,144.0 778.8,140.3 785.0,138.0 C791.2,135.7 798.3,133.7 805.0,134.0 C811.7,134.3 819.2,138.0 825.0,140.0 C830.8,142.0 835.0,145.2 840.0,146.0 C845.0,146.8 850.5,146.5 855.0,145.0 C859.5,143.5 863.5,141.2 867.0,137.0 C870.5,132.8 873.3,126.2 876.0,120.0 C878.7,113.8 881.3,107.5 883.0,100.0 C884.7,92.5 885.3,83.3 886.0,75.0 C886.7,66.7 886.2,54.2 887.0,50.0 C887.8,45.8 890.2,45.8 891.0,50.0 C891.8,54.2 891.5,66.7 892.0,75.0 C892.5,83.3 893.3,92.5 894.0,100.0 C894.7,107.5 895.5,113.3 896.0,120.0 C896.5,126.7 897.0,133.3 897.0,140.0 C897.0,146.7 896.3,152.5 896.0,160.0 C895.7,167.5 894.7,177.0 895.0,185.0 C895.3,193.0 895.5,201.8 898.0,208.0 C900.5,214.2 904.7,218.0 910.0,222.0 C915.3,226.0 923.7,229.0 930.0,232.0 C936.3,235.0 943.3,237.0 948.0,240.0 C952.7,243.0 955.2,246.3 958.0,250.0 C960.8,253.7 960.5,257.3 965.0,262.0 C969.5,266.7 977.5,274.2 985.0,278.0 C992.5,281.8 1000.8,286.3 1010.0,285.0 C1019.2,283.7 1028.3,275.0 1040.0,270.0 C1051.7,265.0 1073.3,233.3 1080.0,255.0 C1086.7,276.7 1146.7,375.8 1080.0,400.0 C1013.3,424.2 746.7,427.0 680.0,400.0 C613.3,373.0 679.0,265.0 680.0,238.0 C681.0,211.0 681.8,238.3 686.0,238.0 Z" fill="none" stroke="#a8dcd0" stroke-width="14" filter="url(#b5)"/><path d="M686.0,238.0 C690.2,237.7 698.5,237.3 705.0,236.0 C711.5,234.7 718.8,232.7 725.0,230.0 C731.2,227.3 737.8,225.0 742.0,220.0 C746.2,215.0 748.2,206.7 750.0,200.0 C751.8,193.3 751.7,186.3 753.0,180.0 C754.3,173.7 755.5,167.3 758.0,162.0 C760.5,156.7 763.5,152.0 768.0,148.0 C772.5,144.0 778.8,140.3 785.0,138.0 C791.2,135.7 798.3,133.7 805.0,134.0 C811.7,134.3 819.2,138.0 825.0,140.0 C830.8,142.0 835.0,145.2 840.0,146.0 C845.0,146.8 850.5,146.5 855.0,145.0 C859.5,143.5 863.5,141.2 867.0,137.0 C870.5,132.8 873.3,126.2 876.0,120.0 C878.7,113.8 881.3,107.5 883.0,100.0 C884.7,92.5 885.3,83.3 886.0,75.0 C886.7,66.7 886.2,54.2 887.0,50.0 C887.8,45.8 890.2,45.8 891.0,50.0 C891.8,54.2 891.5,66.7 892.0,75.0 C892.5,83.3 893.3,92.5 894.0,100.0 C894.7,107.5 895.5,113.3 896.0,120.0 C896.5,126.7 897.0,133.3 897.0,140.0 C897.0,146.7 896.3,152.5 896.0,160.0 C895.7,167.5 894.7,177.0 895.0,185.0 C895.3,193.0 895.5,201.8 898.0,208.0 C900.5,214.2 904.7,218.0 910.0,222.0 C915.3,226.0 923.7,229.0 930.0,232.0 C936.3,235.0 943.3,237.0 948.0,240.0 C952.7,243.0 955.2,246.3 958.0,250.0 C960.8,253.7 960.5,257.3 965.0,262.0 C969.5,266.7 977.5,274.2 985.0,278.0 C992.5,281.8 1000.8,286.3 1010.0,285.0 C1019.2,283.7 1028.3,275.0 1040.0,270.0 C1051.7,265.0 1073.3,233.3 1080.0,255.0 C1086.7,276.7 1146.7,375.8 1080.0,400.0 C1013.3,424.2 746.7,427.0 680.0,400.0 C613.3,373.0 679.0,265.0 680.0,238.0 C681.0,211.0 681.8,238.3 686.0,238.0 Z" fill="#d6c98e" filter="url(#b3)"/><ellipse cx="842" cy="218" rx="66" ry="52" fill="#c49448" filter="url(#b12)"/><ellipse cx="884" cy="150" rx="7" ry="22" fill="#c8a055" filter="url(#b3)"/><ellipse cx="968" cy="318" rx="38" ry="28" fill="#c08a40" filter="url(#b8)"/><ellipse cx="1055" cy="300" rx="18" ry="35" fill="#a65822" filter="url(#b5)"/><ellipse cx="1040" cy="275" rx="14" ry="22" fill="#c08a40" filter="url(#b5)"/><ellipse cx="720" cy="270" rx="40" ry="14" fill="#cfb068" filter="url(#b5)"/><path d="M680.0,274.0 C681.0,253.5 681.8,273.8 686.0,277.0 C690.2,280.2 698.7,288.7 705.0,293.0 C711.3,297.3 717.7,298.7 724.0,303.0 C730.3,307.3 736.7,314.5 743.0,319.0 C749.3,323.5 755.7,327.0 762.0,330.0 C768.3,333.0 772.5,334.7 781.0,337.0 C789.5,339.3 802.5,341.7 813.0,344.0 C823.5,346.3 835.7,349.3 844.0,351.0 C852.3,352.7 856.7,352.7 863.0,354.0 C869.3,355.3 875.7,357.7 882.0,359.0 C888.3,360.3 894.7,362.0 901.0,362.0 C907.3,362.0 913.7,359.0 920.0,359.0 C926.3,359.0 932.7,362.0 939.0,362.0 C945.3,362.0 951.7,360.5 958.0,359.0 C964.3,357.5 970.7,353.7 977.0,353.0 C983.3,352.3 989.2,355.7 996.0,355.0 C1002.8,354.3 1011.7,352.3 1018.0,349.0 C1024.3,345.7 1028.7,339.7 1034.0,335.0 C1039.3,330.3 1044.7,326.0 1050.0,321.0 C1055.3,316.0 1061.0,308.5 1066.0,305.0 C1071.0,301.5 1077.7,284.2 1080.0,300.0 C1082.3,315.8 1146.7,383.3 1080.0,400.0 C1013.3,416.7 746.7,421.0 680.0,400.0 C613.3,379.0 679.0,294.5 680.0,274.0 Z" fill="none" stroke="#c08a40" stroke-width="14" filter="url(#b5)"/><path d="M680.0,274.0 C681.0,253.5 681.8,273.8 686.0,277.0 C690.2,280.2 698.7,288.7 705.0,293.0 C711.3,297.3 717.7,298.7 724.0,303.0 C730.3,307.3 736.7,314.5 743.0,319.0 C749.3,323.5 755.7,327.0 762.0,330.0 C768.3,333.0 772.5,334.7 781.0,337.0 C789.5,339.3 802.5,341.7 813.0,344.0 C823.5,346.3 835.7,349.3 844.0,351.0 C852.3,352.7 856.7,352.7 863.0,354.0 C869.3,355.3 875.7,357.7 882.0,359.0 C888.3,360.3 894.7,362.0 901.0,362.0 C907.3,362.0 913.7,359.0 920.0,359.0 C926.3,359.0 932.7,362.0 939.0,362.0 C945.3,362.0 951.7,360.5 958.0,359.0 C964.3,357.5 970.7,353.7 977.0,353.0 C983.3,352.3 989.2,355.7 996.0,355.0 C1002.8,354.3 1011.7,352.3 1018.0,349.0 C1024.3,345.7 1028.7,339.7 1034.0,335.0 C1039.3,330.3 1044.7,326.0 1050.0,321.0 C1055.3,316.0 1061.0,308.5 1066.0,305.0 C1071.0,301.5 1077.7,284.2 1080.0,300.0 C1082.3,315.8 1146.7,383.3 1080.0,400.0 C1013.3,416.7 746.7,421.0 680.0,400.0 C613.3,379.0 679.0,294.5 680.0,274.0 Z" fill="#7e1d06" filter="url(#b1)"/><ellipse cx="803" cy="195" rx="46" ry="48" fill="#b07434" filter="url(#b3)"/><ellipse cx="802" cy="194" rx="37" ry="39" fill="#7e1c04" filter="url(#b1)"/><circle cx="821" cy="149.6" r="6.8" fill="#7e1c04"/><circle cx="930" cy="340" r="7" fill="#7e1c04" filter="url(#b1)"/><ellipse cx="774" cy="73" rx="5" ry="4" fill="#1c44a0"/><circle cx="765" cy="322" r="4" fill="#3a8cc8"/><circle cx="1024" cy="299" r="3" fill="#3a8cc8"/><polygon points="768.0,272.0 769.9,270.7 773.2,269.4 777.0,265.9 777.6,267.2 781.3,263.5 785.0,263.0 790.2,262.5 793.0,262.1 795.7,260.5 799.1,262.7 802.0,261.0 805.5,260.9 809.4,257.4 813.1,258.3 814.9,255.3 819.0,256.0 823.8,254.9 826.8,255.4 830.3,254.5 833.0,252.0 835.4,251.9 838.4,251.2 842.8,247.0 842.9,246.2 847.0,246.0 850.8,243.4 851.8,240.6 853.5,238.6 855.1,237.0 858.1,235.8 860.0,232.0 863.0,230.9 865.9,228.4 867.0,224.0 870.4,221.6 873.9,223.3 876.9,220.6 879.0,218.2 881.0,218.0 885.7,217.0 887.2,213.9 892.8,216.0 895.0,213.0 894.7,211.3 897.1,206.1 897.9,205.6 901.1,200.2 901.0,199.0 902.2,194.4 903.3,192.4 904.6,191.7 904.0,187.0 905.6,186.0 906.5,179.9 909.2,176.9 909.3,175.5 912.0,173.0 915.2,169.6 916.0,169.9 919.7,168.1 924.6,163.8 926.0,162.0 927.9,159.1 930.5,156.3 932.0,153.0 933.7,150.7 936.6,147.5 936.3,145.5 937.1,141.3 941.2,139.3 941.2,134.7 942.2,134.0 944.0,131.0 942.0,128.3 944.0,123.2 943.8,121.6 943.7,118.1 943.6,116.4 942.6,112.5 943.1,107.2 947.0,105.0 950.7,105.7 952.3,102.8 956.6,101.4 958.9,100.3 962.5,100.0 964.9,99.0 967.5,96.9 972.0,94.4 974.1,95.6 976.0,92.4 980.7,91.2 982.4,90.8 984.3,92.6 989.1,93.5 991.4,97.0 988.5,98.9 988.1,101.8 985.9,103.3 982.4,107.0 984.2,110.0 988.6,111.7 989.6,114.3 986.8,115.5 986.1,118.3 985.3,123.1 981.3,123.7 980.6,127.0 983.4,130.2 984.0,132.4 988.2,131.2 988.8,130.5 993.2,130.6 994.9,126.7 993.8,124.2 995.0,121.5 998.0,120.7 1003.2,119.4 1003.2,121.7 1009.7,121.5 1011.4,120.9 1015.0,118.8 1019.6,118.1 1022.0,120.6 1024.8,119.7 1026.5,119.3 1029.3,118.6 1033.7,119.7 1037.5,119.1 1040.9,121.7 1044.1,122.7 1045.6,121.5 1049.4,123.6 1048.6,126.0 1052.8,127.0 1049.2,128.7 1048.6,131.9 1045.6,134.2 1043.9,138.5 1043.2,139.0 1040.5,143.6 1040.0,145.0 1043.1,145.1 1045.9,142.1 1049.7,143.4 1052.8,141.4 1054.9,141.6 1060.9,140.7 1063.9,136.9 1066.0,137.8 1066.5,142.1 1064.4,143.0 1065.2,146.9 1065.7,149.7 1067.0,151.1 1064.4,154.5 1064.6,157.3 1067.7,163.2 1064.5,164.9 1065.3,167.2 1065.5,171.4 1066.3,173.4 1064.9,176.3 1064.6,180.1 1066.8,182.5 1064.5,184.8 1065.5,189.4 1067.0,191.6 1066.0,195.0 1063.3,195.6 1058.2,194.9 1054.6,195.6 1051.7,195.3 1048.6,194.2 1045.9,191.6 1043.4,192.2 1038.8,190.2 1037.3,190.8 1034.7,188.4 1033.3,188.5 1030.1,190.6 1024.8,190.1 1021.3,191.9 1020.3,192.8 1016.7,192.0 1014.8,193.3 1011.7,193.7 1006.5,194.5 1003.2,193.6 1002.0,195.6 999.9,194.9 994.3,196.0 994.1,197.1 989.6,199.2 986.0,202.8 984.5,205.2 984.0,206.4 982.3,210.6 981.0,212.8 977.0,215.5 976.7,216.8 975.3,221.5 973.0,224.5 973.4,226.2 973.1,232.3 970.2,233.2 971.6,238.1 971.0,240.0 968.3,241.8 966.5,246.4 966.5,248.6 963.3,251.6 962.0,255.0 960.3,257.7 958.1,261.0 960.1,263.7 958.1,265.8 956.0,270.0 954.9,273.4 953.0,275.1 950.4,278.0 950.1,278.7 945.4,283.4 945.0,285.0 943.5,286.1 938.8,287.8 934.9,287.2 931.9,289.3 930.0,290.0 926.3,290.5 924.7,294.6 920.3,295.2 918.0,296.0 915.1,299.3 913.1,299.2 909.2,300.3 907.5,303.6 905.0,306.0 900.8,307.2 898.4,310.5 894.7,313.0 893.0,313.0 889.7,312.1 886.4,311.7 884.4,309.5 880.0,308.0 876.9,306.8 875.3,303.6 871.8,303.7 868.0,300.0 866.2,296.5 863.7,295.8 863.6,294.2 862.6,289.1 858.5,286.6 858.0,285.0 854.4,287.5 854.3,289.9 849.6,291.6 848.0,292.0 844.1,291.7 842.3,290.5 836.8,293.2 835.0,292.0 831.7,289.7 830.1,289.0 825.4,286.0 824.4,284.7 822.0,283.0 817.5,284.6 816.6,285.1 811.7,285.4 808.0,288.0 804.0,289.2 800.2,290.6 799.9,288.3 796.8,289.9 792.0,291.0 789.5,291.4 784.3,290.6 782.1,290.6 778.0,289.0 774.5,287.6 774.3,285.0 770.0,282.0 769.5,277.3 768.6,274.8" fill="#80b4b8" fill-opacity="0.5" stroke="#fff" stroke-width="1.4" stroke-linejoin="round"/><polyline points="944.0,131.0 947.6,133.1 951.3,135.1 954.3,136.5 955.4,136.5 960.0,138.0 964.2,140.1 966.9,140.2 968.4,142.2 971.5,144.9 972.7,145.5 977.0,148.0 978.9,150.8 983.0,150.2 985.7,151.7 987.8,153.3 990.0,156.0 991.0,158.9 994.1,158.8 998.9,162.6 999.4,164.7 1002.6,165.7 1005.0,167.0 1006.6,170.0 1010.6,171.7 1013.7,171.4 1014.6,172.7 1016.4,174.0 1020.0,177.0 1022.9,178.3 1025.5,179.5 1030.0,179.4 1034.0,181.0" fill="none" stroke="#fff" stroke-width="1.2"/><polyline points="847.0,246.0 849.4,249.7 851.9,253.3 853.7,256.3 855.0,258.0 856.6,258.7 862.3,260.0 865.2,259.2 866.9,260.4 870.0,262.0 872.6,264.2 873.5,265.2 876.8,269.2 880.0,270.0 880.4,272.0 880.1,274.9 879.2,277.9 876.9,283.1 878.0,285.0 877.5,287.1 880.2,292.1 878.6,295.4 879.7,297.5 880.0,300.0" fill="none" stroke="#fff" stroke-width="1.2"/><polyline points="901.0,199.0 904.2,201.9 907.5,204.7 910.1,206.9 910.8,207.7 915.0,210.0 918.3,212.8 920.2,213.6 920.9,216.4 923.1,219.8 925.0,222.0 926.5,220.4 930.3,221.6 934.8,218.6 937.9,217.7 940.0,218.0 943.4,216.5 944.5,218.3 948.1,215.9 953.4,217.5 955.0,216.0 957.2,218.4 960.8,218.5 962.6,220.3 966.9,221.4 970.3,220.4 972.0,222.0" fill="none" stroke="#fff" stroke-width="1.2"/><polyline points="833.0,252.0 834.8,249.5 836.7,246.9 837.9,243.7 837.2,239.1 840.0,236.0 844.0,233.8 846.5,229.5 848.0,228.0 848.4,224.0 849.1,221.7 848.0,217.4 850.0,215.0 852.3,215.2 856.8,212.0 859.9,210.9 862.4,209.9 865.0,210.0 866.8,212.8 870.8,212.5 875.0,215.0" fill="none" stroke="#fff" stroke-width="1.2"/><polyline points="930.0,225.0 930.0,228.7 930.1,232.3 929.5,235.3 927.0,236.9 928.0,240.0 931.7,242.4 934.0,242.8 935.1,245.2 937.7,248.2 940.0,250.0 941.9,247.5 946.0,247.9 950.0,245.0 953.3,242.2 955.9,240.4 957.9,238.6 960.0,238.0" fill="none" stroke="#fff" stroke-width="1.2"/><path d="M867.2,66.8L867.8,71.0L866.4,75.1L867.5,79.3L866.2,83.4 M851.4,61.7L853.0,66.6L852.6,71.6L851.4,76.5 M899.9,113.8L902.5,117.6L904.2,121.6 M859.4,81.4L856.8,84.9L855.2,88.8L854.2,92.9L852.3,96.7L851.9,101.1 M851.2,74.1L851.5,78.4L851.9,82.8L850.6,87.1 M887.1,75.8L886.5,80.2L887.2,84.5L888.7,88.6L887.3,93.1 M856.6,94.0L854.5,99.1L853.8,104.4L853.8,109.7 M897.5,81.8L897.6,86.6L898.0,91.4L897.1,96.2L896.9,101.0 M876.9,117.3L875.8,121.8L875.6,126.6L873.8,130.8L871.6,134.9 M851.3,101.1L850.4,106.4L847.6,111.3 M854.6,80.2L855.2,84.8L855.3,89.5 M896.8,140.5L895.7,144.5L893.1,148.1L891.7,152.0 M857.2,69.8L857.5,75.1L857.6,80.4L856.0,85.5 M871.0,105.2L870.5,109.8L869.2,114.3L868.1,118.8L868.7,123.7L865.6,127.8 M894.5,140.5L892.4,145.0L893.3,150.0L892.6,154.7 M860.5,69.4L861.0,73.9L861.0,78.4L861.5,82.8 M870.7,57.7L869.1,62.7L867.7,67.7 M854.1,133.0L854.4,137.7L855.9,142.4L856.2,147.2L856.0,152.0L856.6,156.7 M900.1,69.4L897.2,72.5L896.3,76.7L893.2,79.7L890.1,82.7 M898.5,123.6L898.4,127.7L896.2,131.5L896.2,135.6 M893.2,81.1L892.6,85.8L891.9,90.5L891.5,95.2L892.1,100.1L890.7,104.7 M870.4,59.2L868.8,63.1L866.2,66.6 M909.1,95.1L906.9,99.2L904.4,103.1L901.9,107.1L899.4,111.0L896.0,114.4 M898.0,136.3L898.2,141.5L900.7,146.5L899.8,151.9 M899.6,132.8L900.3,138.3L898.6,143.6 M901.4,92.5L902.5,97.3L904.5,101.9L905.2,106.6 M856.7,139.8L857.0,144.1L857.3,148.4L856.2,152.6L856.8,156.9L856.6,161.2 M902.2,116.8L903.5,120.9L902.4,125.0L902.5,129.1L904.1,133.2 M863.2,83.3L863.5,87.4L861.1,91.2L862.1,95.4 M877.8,107.7L875.2,111.6L874.8,116.2L873.3,120.4L871.9,124.7L871.8,129.4 M875.2,73.4L872.5,78.1L870.9,83.2 M866.6,103.4L868.0,107.7L866.4,111.8L866.8,116.1L866.4,120.3 M890.1,99.6L890.5,104.2L891.6,108.6L892.4,113.0L892.8,117.5L894.2,121.9 M877.6,96.3L877.3,100.9L877.2,105.5L879.1,110.1L878.4,114.7L877.5,119.4 M953.1,70.1L952.3,74.1L949.6,77.4 M949.0,145.2L947.7,149.6L947.6,154.4 M955.2,150.7L952.9,154.4L952.2,158.6L952.8,163.1 M932.7,107.1L929.1,111.8L925.0,116.1 M906.6,109.6L906.0,115.4L906.4,121.3 M962.1,128.9L960.9,132.9L960.7,137.0L958.1,140.7L958.6,145.0L958.2,149.1 M928.2,146.5L928.0,151.1L926.7,155.4 M910.5,57.5L911.2,61.7L908.8,65.7L909.4,69.9L908.7,74.0 M913.1,139.9L910.5,143.6L907.6,147.1L907.0,151.8 M914.7,108.1L912.9,113.0L911.6,118.0 M916.5,85.7L916.9,91.3L916.1,96.7 M907.0,81.5L905.9,85.0L905.2,88.6 M933.8,147.5L931.2,151.1L930.5,155.6L928.4,159.4 M944.2,152.4L942.3,158.0L940.3,163.6 M927.7,90.7L927.9,94.9L927.1,98.8 M911.2,134.6L911.2,139.5L910.3,144.3L909.2,148.9L907.8,153.5 M915.0,94.4L915.2,98.5L912.7,102.4L913.9,106.7L913.2,110.8L913.5,115.0 M930.7,102.2L927.3,105.6L925.7,110.1L922.4,113.5 M911.8,94.6L909.7,99.9L908.7,105.4 M946.9,117.2L947.3,121.6L946.7,125.8L944.3,129.7L945.6,134.3 M949.2,115.6L946.6,119.7L944.1,123.9L943.3,129.1L940.2,132.9 M934.3,134.5L933.7,139.0L931.8,143.2L931.1,147.8L929.9,152.2 M905.4,148.8L905.1,152.8L904.0,156.5 M951.8,205.4L948.7,209.0L947.7,213.2L947.2,217.5 M941.8,205.3L939.4,209.6L936.4,213.6 M905.0,207.3L904.1,212.0L902.6,216.6L900.9,221.1L899.5,225.7 M948.4,202.9L948.4,208.0L946.6,212.6 M881.9,150.5L880.9,155.4L880.0,160.3 M910.8,192.5L912.8,196.4L911.0,200.6 M983.3,145.3L982.2,149.3L982.7,153.6L982.4,157.8 M903.8,231.0L901.9,234.9L903.2,239.4 M972.9,187.2L972.5,191.8L969.3,195.4L968.7,200.0L968.2,204.7 M880.8,190.1L880.9,194.3L879.5,198.4 M882.8,209.2L879.9,213.1L879.6,217.5L878.4,221.7L879.1,226.2 M923.2,180.2L921.5,185.6L920.0,191.0 M890.8,219.9L891.8,225.2L891.1,230.3 M933.9,158.3L935.1,162.7L935.1,167.3L935.8,171.7L937.6,176.0 M962.8,147.3L960.3,150.6L958.8,154.3L957.9,158.3L956.7,162.2 M981.2,156.3L980.7,161.5L982.7,166.6 M953.6,170.3L953.4,175.0L952.6,179.5L951.8,184.0 M981.8,185.3L981.6,190.2L980.4,194.9L979.7,199.7L978.0,204.3 M892.3,167.1L889.1,171.0L887.0,175.5 M926.4,181.8L926.0,187.2L924.3,192.7 M893.7,187.9L894.9,193.0L894.2,197.8L893.7,202.7 M929.1,182.7L927.1,186.7L923.5,189.9L921.1,193.7L920.0,198.1 M943.7,144.2L943.7,150.0L943.4,155.8 M987.9,165.8L986.3,170.0L985.9,174.4L985.1,178.8 M966.7,184.7L963.9,188.8L964.3,193.5L961.7,197.6 M952.2,170.0L952.6,175.2L951.5,180.0L949.2,184.5 M945.0,180.3L945.4,185.2L943.5,189.6 M930.8,229.9L931.2,234.1L929.7,238.5L930.7,242.7 M912.4,145.6L913.7,149.8L914.8,154.0L914.3,158.4 M983.1,164.5L982.5,170.6L979.3,175.9 M960.9,190.7L961.8,195.5L959.7,199.8 M906.8,160.6L906.9,165.4L906.1,170.0L904.9,174.6L903.6,179.2 M985.1,157.4L983.1,163.2L985.3,169.0 M883.7,146.6L883.7,151.2L884.6,155.6L886.8,159.8L887.9,164.2 M983.8,213.8L983.2,217.3L982.0,220.5 M916.9,159.6L917.4,165.5L913.8,170.2 M903.2,173.5L903.6,177.9L904.0,182.3L902.3,186.4L901.9,190.6 M981.0,163.9L980.3,167.5L980.8,170.9 M885.0,149.4L885.0,153.4L882.4,156.2 M980.0,173.3L978.5,178.1L979.1,183.0L978.9,187.8 M885.1,210.1L881.9,213.5L881.5,218.7L878.5,222.2L875.5,225.8 M985.5,229.8L984.2,233.8L986.0,237.9L984.2,241.9 M962.8,215.9L962.6,220.1L961.7,224.2L960.7,228.2L958.7,231.9 M890.4,164.3L888.6,167.7L888.6,171.5 M988.5,219.8L988.9,224.7L988.9,229.5L987.8,234.3L987.2,239.2 M928.0,163.5L928.1,168.6L928.9,173.6L930.7,178.6 M974.6,169.8L972.5,174.0L972.7,178.9L971.3,183.3 M908.9,158.8L905.8,163.4L905.3,168.9 M904.1,215.3L906.5,220.2L905.5,225.3L904.7,230.3 M1050.6,314.5L1047.6,318.6L1047.7,323.4 M1056.4,238.2L1056.4,242.4L1054.6,246.3L1053.7,250.3L1055.4,254.6L1053.7,258.5 M1034.2,223.0L1033.1,228.3L1032.8,233.6 M1004.7,195.3L1005.3,199.6L1004.4,203.6L1004.1,207.7 M1046.5,264.6L1045.6,269.0L1046.4,273.6L1045.6,278.0 M1039.8,247.5L1037.5,253.1L1038.5,259.2 M1028.3,235.3L1029.4,239.7L1028.7,244.3L1030.8,248.5L1032.0,252.9L1030.3,257.7 M1020.2,299.8L1020.3,304.5L1020.0,309.1L1019.4,313.6 M1030.1,275.0L1029.2,279.1L1029.5,283.4L1028.6,287.5L1027.4,291.6 M1054.4,206.7L1053.7,211.6L1055.4,216.7L1055.3,221.6 M1056.7,316.1L1055.2,320.4L1055.8,324.7L1055.1,328.9L1056.6,333.3L1054.8,337.5 M1005.6,242.4L1006.9,246.6L1006.5,250.6L1005.6,254.6L1004.9,258.6L1004.9,262.7 M998.6,228.1L997.9,232.1L999.6,236.2 M1046.9,207.3L1047.5,211.3L1049.2,215.2L1049.7,219.3L1050.2,223.4 M1019.3,281.7L1019.8,285.6L1020.7,289.5 M1045.3,294.4L1043.8,299.0L1044.1,303.9L1043.4,308.6 M1019.5,207.9L1021.2,211.8L1019.8,216.0 M1045.0,262.4L1044.7,266.5L1042.7,270.4 M1003.3,302.3L999.9,306.3L999.6,311.4L996.9,315.7L995.5,320.5 M1003.6,291.9L1002.5,296.1L1001.1,300.3L1002.3,304.7L1000.0,308.8L1001.3,313.2 M1046.5,213.3L1047.1,218.7L1048.7,223.7 M991.9,218.6L992.1,223.6L991.1,228.5 M981.9,99.0L978.9,102.5L977.8,107.0L975.8,111.2L973.2,115.0 M974.9,111.4L972.2,115.1L971.7,119.8L968.1,123.2L967.4,127.8 M1000.9,96.2L998.2,100.8L998.8,106.0L997.0,110.7L995.4,115.5 M1025.3,94.0L1023.9,98.1L1022.3,102.2L1019.9,105.9 M1007.4,85.1L1007.0,91.2L1005.1,96.7 M999.7,59.8L997.9,64.1L996.9,68.6L997.0,73.3 M1029.9,83.8L1027.0,89.0L1022.8,93.4 M1056.8,101.2L1054.7,105.6L1050.7,108.8L1048.3,112.9 M1013.5,161.8L1012.4,166.9L1015.2,171.5L1014.6,176.6L1015.5,181.4 M1010.2,115.8L1007.3,119.0L1004.8,122.3L1005.1,126.9L1003.3,130.6L1000.7,134.0 M1029.0,165.3L1028.3,169.6L1024.9,173.1L1023.9,177.3 M1044.3,109.8L1044.4,114.2L1043.0,118.3L1043.0,122.7L1042.9,127.0L1042.5,131.3 M1004.8,113.5L1004.6,118.3L1005.2,123.2L1003.9,127.8L1003.7,132.6 M1051.7,156.3L1049.0,159.5L1048.7,164.0L1045.2,166.7 M989.9,129.6L989.6,134.3L986.9,138.3L987.0,143.2L985.9,147.7L982.9,151.6 M1040.3,166.8L1039.0,171.5L1035.7,175.0L1033.6,179.1L1030.8,182.9 M1021.4,172.3L1022.1,178.1L1019.2,183.5 M702.1,233.6L704.2,229.6L707.0,226.4 M687.3,237.3L689.1,233.1L693.0,231.2L695.6,227.8L699.5,225.8 M770.4,295.9L772.8,292.8L775.2,289.7 M693.5,249.0L697.1,245.8L701.2,243.5L704.7,240.3L708.1,236.9 M692.4,239.6L696.1,237.2L699.9,234.9L702.8,231.5L706.7,229.4 M711.0,286.8L714.6,284.5L717.0,281.2L718.8,277.2L722.4,275.0L725.4,272.2 M760.1,257.3L763.3,254.5L767.8,253.8L770.4,249.9L775.0,249.4 M697.6,232.5L701.8,231.4L705.3,229.2L709.2,227.7L711.9,224.1L715.8,222.6 M720.0,290.7L724.5,287.4L729.5,285.5 M756.6,266.3L760.2,264.3L764.0,262.8 M747.1,256.2L751.4,255.5L754.2,251.7L758.9,251.6 M687.0,247.1L691.4,245.1L693.9,240.8L697.8,238.2 M734.7,284.6L738.8,282.9L743.1,281.9L747.2,280.5L751.9,281.3 M748.7,286.3L751.9,282.9L756.2,281.3L760.5,279.9L763.4,276.2 M702.0,254.3L705.0,250.8L708.8,248.9L712.6,247.2L716.5,245.5 M734.9,246.9L736.9,242.9L741.5,241.9L743.1,237.4L746.6,235.2L750.8,233.7 M763.5,283.5L767.8,282.2L770.8,278.8L774.7,276.8 M724.1,237.3L726.7,234.1L728.8,230.4L730.5,226.5L733.8,223.7 M721.5,285.4L726.1,283.6L730.7,281.9L734.8,279.0L739.1,276.5 M754.8,297.2L758.6,294.4L762.2,291.3L765.8,288.2L770.2,286.2 M695.3,266.0L697.6,262.1L699.2,257.9L702.1,254.4L704.7,250.7 M749.4,261.4L752.7,257.9L755.0,253.6 M737.4,301.6L738.2,297.8L741.4,295.2 M777.7,269.0L781.9,266.5L786.4,264.7L791.0,263.0 M732.9,261.8L737.1,260.9L740.3,258.3L744.3,257.2L747.0,253.8L751.7,253.8 M722.7,234.2L725.4,231.9L728.6,230.2 M720.9,249.9L725.7,248.1L729.8,244.9 M709.3,289.3L712.5,286.3L715.3,282.9 M733.3,272.2L736.7,268.1L741.4,266.0 M766.2,291.5L770.9,289.2L773.2,284.7L777.5,281.9 M712.4,258.0L716.3,254.4L720.2,250.9 M756.6,252.3L760.6,249.9L764.2,247.2L767.4,243.8 M779.8,292.1L783.4,290.5L786.7,288.4 M702.0,291.0L704.3,288.2L706.4,285.1 M785.3,239.8L786.8,235.5L788.7,231.5 M838.4,288.9L841.8,286.0L845.7,283.9L849.1,281.0 M832.1,242.6L836.7,241.3L840.9,238.8L845.7,238.0 M814.4,249.0L818.8,244.8L821.6,239.5 M810.7,267.5L812.0,262.9L816.5,261.5L818.7,257.9 M816.4,279.7L818.6,274.1L823.5,271.2 M822.7,233.5L824.8,229.6L824.9,224.9L828.0,221.3 M811.4,267.3L813.9,263.0L818.0,260.0L820.1,255.4 M808.5,270.5L811.7,266.5L814.4,262.2L817.4,258.0 M833.3,250.9L836.5,248.4L840.1,246.4L842.3,242.9 M833.4,254.3L835.6,249.9L837.4,245.3 M830.9,233.0L833.4,229.6L834.8,225.6L837.2,222.1 M845.5,277.6L845.6,272.9L844.7,268.3L844.6,263.7 M823.4,281.5L823.8,277.2L825.5,273.2 M786.7,241.9L788.1,239.0L788.6,235.7 M802.5,289.8L805.7,286.6L808.4,282.9 M807.2,281.3L809.4,277.4L809.0,272.9L810.1,268.7L812.8,264.9 M817.6,298.5L821.2,294.5L824.2,290.1 M811.5,259.1L812.7,255.5L814.7,252.5 M775.6,232.3L779.6,229.6L780.3,224.9L782.3,220.9L786.1,218.1 M861.6,234.9L864.0,231.5L864.4,227.7 M891.9,235.2L896.1,233.4L898.4,229.2L902.9,227.8 M888.0,183.3L890.1,181.3L890.3,177.9 M862.5,234.1L866.9,230.8L871.1,227.4 M871.3,229.7L874.0,227.1L877.5,226.1 M887.2,216.8L885.4,211.8L883.5,206.8L881.7,201.8 M897.8,233.7L901.9,231.0L906.2,228.6L909.6,225.1 M885.7,205.7L883.3,201.5L881.8,196.8 M892.1,201.4L894.3,199.7L896.4,198.0 M888.7,246.0L892.8,243.3L896.8,240.6L901.8,240.0 M889.9,234.3L892.1,229.5L895.9,225.8L899.2,221.8 M857.8,237.7L859.7,234.1L861.6,230.4L864.1,227.2 M889.1,240.3L892.1,235.6L893.1,230.4 M857.8,223.2L862.9,220.8L867.4,217.2 M861.5,199.2L861.2,194.8L859.9,190.5L859.3,186.2 M856.1,185.8L858.7,183.6L859.9,180.1 M817.8,80.9L818.6,85.2L816.9,90.0L818.1,94.3 M806.2,99.9L807.7,103.6L808.6,107.5L809.3,111.5 M794.7,61.4L790.9,64.0L787.0,66.4 M805.4,130.7L810.2,131.0L814.5,129.4L818.8,127.6L823.8,128.6 M791.4,97.7L790.8,102.7L790.2,107.6L788.8,112.3 M699.2,210.9L698.2,214.6L696.1,218.0 M751.5,190.3L752.4,194.1L753.3,197.8 M762.1,59.3L761.6,63.5L759.4,67.0L757.6,70.6L757.7,74.9L755.8,78.5 M709.2,74.3L706.7,78.2L704.7,82.3L701.2,85.6 M686.4,164.8L685.2,169.9L686.0,174.9L686.6,179.8L689.1,184.6 M717.8,65.6L718.5,69.5L719.1,73.5L719.6,77.5L718.5,81.5L719.6,85.5 M982.5,295.4L982.7,299.6L980.1,303.2L980.8,307.5 M970.9,298.1L971.0,302.1L970.3,305.9 M977.9,302.6L974.3,306.7L973.4,311.5L973.0,316.6 M974.9,304.2L974.2,307.9L972.3,311.6 M1003.7,330.7L1000.3,334.3L999.5,339.0L996.0,342.5 M953.1,327.7L952.0,331.7L948.6,335.0 M900.0,303.2L902.0,307.3L902.7,311.5 M912.8,324.6L911.9,328.7L909.7,332.5 M900.0,303.7L899.9,308.5L900.2,313.5L899.9,318.3 M912.4,309.6L909.2,313.8L909.1,318.8L906.5,323.1 M915.9,313.9L915.1,320.0L913.1,325.4 M914.1,310.8L913.0,314.7L914.1,318.8 M900.1,310.5L899.9,315.4L901.2,320.3L900.1,325.1 M894.6,326.6L894.1,330.0L895.0,333.4 M901.8,312.5L901.6,316.9L901.6,321.3L900.9,325.7L899.2,330.0 M882.6,296.8L882.6,301.6L880.8,306.2L880.4,311.0 M904.3,321.5L902.6,326.1L900.2,330.4L898.7,335.1 M893.5,299.9L891.0,304.8L888.9,309.9 M1010.2,351.3L1010.8,356.1L1009.9,360.7L1008.1,365.1L1008.1,369.8 M1027.2,377.9L1027.1,382.4L1026.5,386.9L1026.0,391.3L1024.2,395.7 M1054.2,381.1L1052.0,384.4L1050.8,388.2 M1015.7,342.1L1016.0,347.4L1017.9,352.4L1017.7,357.8 M1036.3,313.0L1035.0,317.3L1032.6,321.1L1030.4,325.0L1028.4,329.0 M1004.6,360.7L1002.8,365.8L999.5,370.1 M1061.0,357.5L1061.9,362.1L1061.1,366.3L1059.5,370.5 M1011.8,352.7L1010.8,356.8L1008.8,360.3L1007.1,364.0L1006.5,368.2L1005.0,372.0 M1010.0,335.7L1008.6,340.8L1007.5,346.0 M1043.0,352.9L1040.7,356.4L1040.4,360.5L1039.1,364.3L1037.9,368.2 M1032.5,335.1L1031.2,339.7L1031.8,344.6L1030.1,349.1 M1059.1,329.9L1058.1,334.7L1054.9,338.9L1055.2,344.2 M1055.1,326.0L1052.3,329.5L1050.1,333.3L1047.3,336.7 M1009.8,326.1L1010.0,330.4L1008.3,334.2L1006.9,338.0L1004.9,341.7L1003.7,345.6 M872.6,209.5L874.8,213.5L875.6,218.1L877.3,222.3 M879.0,152.7L876.9,157.6L877.1,162.7L877.1,167.7 M876.3,188.7L878.4,193.3L879.8,198.1L881.3,202.9 M873.1,168.7L872.0,173.5L870.6,178.2 M873.4,214.2L874.5,217.8L874.2,221.7 M868.6,149.3L866.8,154.4L866.3,159.6L865.6,164.7 M856.3,181.1L856.1,184.1L854.7,187.0 M873.7,184.9L873.4,189.0L872.7,193.0L873.2,197.2L873.0,201.3 M871.3,173.5L868.1,178.2L865.6,183.3 M865.3,188.4L866.8,193.4L867.1,198.4L866.8,203.5" fill="none" stroke="#000" stroke-width="1.5" stroke-linecap="round" stroke-linejoin="round"/><g stroke="#c462f0" stroke-width="2" stroke-linecap="round"><line x1="867.6" y1="223.3" x2="890.4" y2="230.7"/><line x1="850" y1="245.3" x2="883.8" y2="258.6"/><line x1="850" y1="249" x2="879" y2="260"/><line x1="856" y1="255" x2="877" y2="262"/><line x1="876.4" y1="261.5" x2="891" y2="264.4"/><line x1="898.5" y1="263" x2="926.4" y2="268.8"/><line x1="904.3" y1="224" x2="966" y2="236.5"/><line x1="905.8" y1="227" x2="932.2" y2="232"/><line x1="973.3" y1="243" x2="998.3" y2="246.8"/><line x1="985" y1="241" x2="1022" y2="244"/><line x1="952.8" y1="230.7" x2="966" y2="227.7"/><line x1="870.6" y1="241" x2="878" y2="244.6"/><line x1="881" y1="234" x2="890" y2="236"/><line x1="979" y1="254" x2="985" y2="260"/><line x1="978" y1="262" x2="981" y2="266"/><line x1="894" y1="235" x2="899" y2="238"/><line x1="939" y1="224" x2="947" y2="226"/></g><path d="M837.0,123.0 C846.0,121.6 855.7,121.9 864.0,121.8 C872.3,121.7 879.3,121.5 887.0,122.5 C894.7,123.5 902.2,125.8 910.0,128.0 C917.8,130.2 926.0,132.5 933.5,135.7 C941.0,138.9 948.1,142.6 954.7,147.0 C961.3,151.4 967.3,156.4 973.0,162.0 C978.7,167.6 984.3,173.8 989.0,180.5 C993.7,187.2 997.5,194.6 1001.0,202.0 C1004.5,209.4 1008.0,217.5 1010.0,225.0 C1012.0,232.5 1012.2,239.3 1013.0,247.0 C1013.8,254.7 1014.8,262.8 1014.5,271.0 C1014.2,279.2 1012.8,288.0 1011.0,296.0 C1009.2,304.0 1006.9,311.8 1004.0,319.0 C1001.1,326.2 997.3,332.8 993.5,339.5 C989.7,346.2 985.9,352.8 981.0,359.0 C976.1,365.2 969.3,371.8 964.0,377.0 C958.7,382.2 955.5,384.8 949.0,390.0 C942.5,395.2 939.2,402.2 925.0,408.0 C910.8,413.8 884.8,425.0 864.0,425.0 C843.2,425.0 817.3,415.5 800.0,408.0 C782.7,400.5 768.7,387.3 760.0,380.0 C751.3,372.7 752.0,370.0 748.0,364.0 C744.0,358.0 739.7,350.7 736.0,344.0 C732.3,337.3 728.8,331.3 726.0,324.0 C723.2,316.7 720.8,308.0 719.0,300.0 C717.2,292.0 715.8,284.0 715.0,276.0 C714.2,268.0 713.8,259.3 714.0,252.0 C714.2,244.7 715.0,238.2 716.0,232.0 C717.0,225.8 718.5,220.3 720.0,215.0 C721.5,209.7 723.2,204.8 725.0,200.0 C726.8,195.2 728.5,190.3 731.0,186.0 C733.5,181.7 736.8,177.7 740.0,174.0 C743.2,170.3 746.3,167.3 750.0,164.0 C753.7,160.7 757.8,157.2 762.0,154.0 C766.2,150.8 770.3,147.8 775.0,145.0 C779.7,142.2 784.2,139.5 790.0,137.0 C795.8,134.5 802.2,132.3 810.0,130.0 C817.8,127.7 828.0,124.4 837.0,123.0 Z" fill="none" stroke="#e3141b" stroke-width="2" stroke-dasharray="11 9"/><path d="M851,268.8 H877 M864,256.4 V281.6" stroke="#e3141b" stroke-width="2"/></g>
<rect x="686" y="58" width="380" height="333" fill="none" stroke="#444" stroke-width="0.8"/>
<rect x="686" y="10.3" width="380" height="46.5" rx="3" fill="#e6e6e6"/>
<line x1="697" y1="22.2" x2="722.7" y2="22.2" stroke="#c462f0" stroke-width="1.8"/>
<text x="726.4" y="28.4" font-size="14.5" textLength="116" lengthAdjust="spacingAndGlyphs" fill="#231f20">Cerberus Fossae</text>
<line x1="870.3" y1="22.2" x2="894.8" y2="22.2" stroke="#000" stroke-width="1.8"/>
<text x="899" y="28.4" font-size="14.5" textLength="153" lengthAdjust="spacingAndGlyphs" fill="#231f20">Compressive features</text>
<rect x="772.4" y="38.5" width="13" height="13" fill="#e6e6e6" stroke="#fff" stroke-width="2"/>
<text x="793" y="51.2" font-size="14.5" textLength="182" lengthAdjust="spacingAndGlyphs" fill="#231f20">Late Amazonian volcanics</text>
<line x1="1066" y1="64.4" x2="1071" y2="64.4" stroke="#444" stroke-width="0.8"/>
<text x="1076.5" y="68.9" font-size="13" textLength="33.3" lengthAdjust="spacingAndGlyphs" fill="#231f20">50° N</text>
<line x1="1066" y1="111.0" x2="1071" y2="111.0" stroke="#444" stroke-width="0.8"/>
<text x="1076.5" y="115.5" font-size="13" textLength="33.3" lengthAdjust="spacingAndGlyphs" fill="#231f20">40° N</text>
<line x1="1066" y1="157.7" x2="1071" y2="157.7" stroke="#444" stroke-width="0.8"/>
<text x="1076.5" y="162.2" font-size="13" textLength="33.3" lengthAdjust="spacingAndGlyphs" fill="#231f20">30° N</text>
<line x1="1066" y1="204.3" x2="1071" y2="204.3" stroke="#444" stroke-width="0.8"/>
<text x="1076.5" y="208.8" font-size="13" textLength="33.3" lengthAdjust="spacingAndGlyphs" fill="#231f20">20° N</text>
<line x1="1066" y1="250.9" x2="1071" y2="250.9" stroke="#444" stroke-width="0.8"/>
<text x="1076.5" y="255.4" font-size="13" textLength="33.3" lengthAdjust="spacingAndGlyphs" fill="#231f20">10° N</text>
<line x1="1066" y1="297.6" x2="1071" y2="297.6" stroke="#444" stroke-width="0.8"/>
<text x="1076.5" y="302.1" font-size="13" textLength="14.2" lengthAdjust="spacingAndGlyphs" fill="#231f20">0°</text>
<line x1="1066" y1="344.2" x2="1071" y2="344.2" stroke="#444" stroke-width="0.8"/>
<text x="1076.5" y="348.7" font-size="13" textLength="29.7" lengthAdjust="spacingAndGlyphs" fill="#231f20">10° S</text>
<text transform="translate(1119.5,224.8) rotate(90)" font-size="14.5" text-anchor="middle" textLength="57" lengthAdjust="spacingAndGlyphs" fill="#231f20">Latitude</text>
<line x1="686.0" y1="391" x2="686.0" y2="396" stroke="#444" stroke-width="0.8"/>
<line x1="775.4" y1="391" x2="775.4" y2="396" stroke="#444" stroke-width="0.8"/>
<line x1="864.7" y1="391" x2="864.7" y2="396" stroke="#444" stroke-width="0.8"/>
<line x1="954.0" y1="391" x2="954.0" y2="396" stroke="#444" stroke-width="0.8"/>
<line x1="1043.4" y1="391" x2="1043.4" y2="396" stroke="#444" stroke-width="0.8"/>
<text x="623.4" y="16.6" font-size="22" font-weight="bold" fill="#000">b</text>
<g clip-path="url(#cclip)"><rect x="65.5" y="483.5" width="380.0" height="319.0" fill="#4a9cd0"/><path d="M311.0,484.0 C333.3,448.0 422.7,448.0 445.0,484.0 C467.3,520.0 449.2,665.7 445.0,700.0 C440.8,734.3 427.5,690.0 420.0,690.0 C412.5,690.0 406.7,695.0 400.0,700.0 C393.3,705.0 388.3,715.8 380.0,720.0 C371.7,724.2 360.0,725.0 350.0,725.0 C340.0,725.0 326.5,724.2 320.0,720.0 C313.5,715.8 312.5,739.3 311.0,700.0 C309.5,660.7 288.7,520.0 311.0,484.0 Z" fill="#1d4fa6" filter="url(#b8)"/><path d="M300.0,505.0 C304.2,500.0 322.5,497.5 330.0,500.0 C337.5,502.5 340.0,517.3 345.0,520.0 C350.0,522.7 350.8,516.3 360.0,516.0 C369.2,515.7 388.3,515.7 400.0,518.0 C411.7,520.3 422.5,524.7 430.0,530.0 C437.5,535.3 442.5,531.7 445.0,550.0 C447.5,568.3 447.5,624.2 445.0,640.0 C442.5,655.8 437.5,645.0 430.0,645.0 C422.5,645.0 410.0,640.8 400.0,640.0 C390.0,639.2 379.2,643.3 370.0,640.0 C360.8,636.7 352.5,628.3 345.0,620.0 C337.5,611.7 330.5,600.0 325.0,590.0 C319.5,580.0 315.3,570.0 312.0,560.0 C308.7,550.0 307.0,539.2 305.0,530.0 C303.0,520.8 295.8,510.0 300.0,505.0 Z" fill="#0b3593" filter="url(#b5)"/><path d="M318.0,640.0 C323.3,633.0 338.8,643.8 350.0,648.0 C361.2,652.2 377.5,658.0 385.0,665.0 C392.5,672.0 397.5,683.3 395.0,690.0 C392.5,696.7 380.0,702.5 370.0,705.0 C360.0,707.5 343.7,707.5 335.0,705.0 C326.3,702.5 320.8,700.8 318.0,690.0 C315.2,679.2 312.7,647.0 318.0,640.0 Z" fill="#0b3593" filter="url(#b6)"/><ellipse cx="395" cy="562" rx="24" ry="12" fill="#3f90cc" filter="url(#b5)"/><ellipse cx="355" cy="500" rx="35" ry="12" fill="#3a88c8" filter="url(#b6)"/><ellipse cx="415" cy="500" rx="25" ry="10" fill="#3a88c8" filter="url(#b6)"/><ellipse cx="328" cy="600" rx="10" ry="28" fill="#2f78c0" filter="url(#b5)"/><ellipse cx="360" cy="600" rx="12" ry="10" fill="#2f78c0" filter="url(#b5)"/><ellipse cx="425" cy="652" rx="20" ry="8" fill="#a0d8d0" filter="url(#b4)"/><ellipse cx="432" cy="707" rx="10" ry="16" fill="#c49a4c" filter="url(#b4)"/><ellipse cx="438" cy="700" rx="7" ry="10" fill="#b88838" filter="url(#b3)"/><ellipse cx="380" cy="770" rx="50" ry="25" fill="#2d70ba" filter="url(#b8)"/><ellipse cx="420" cy="760" rx="15" ry="12" fill="#5aaad6" filter="url(#b5)"/><ellipse cx="315" cy="785" rx="8" ry="10" fill="#0b3593" filter="url(#b4)"/><ellipse cx="265" cy="620" rx="18" ry="60" fill="#3a82c4" filter="url(#b8)"/><ellipse cx="262" cy="700" rx="22" ry="25" fill="#2f74bc" filter="url(#b8)"/><ellipse cx="300" cy="740" rx="25" ry="15" fill="#3a86c6" filter="url(#b6)"/><ellipse cx="240" cy="560" rx="25" ry="15" fill="#3a88c8" filter="url(#b6)"/><ellipse cx="215" cy="515" rx="85" ry="40" fill="#72c2d8" filter="url(#b12)"/><ellipse cx="175" cy="505" rx="40" ry="16" fill="#b0e2d2" filter="url(#b6)"/><ellipse cx="235" cy="492" rx="45" ry="7" fill="#b0e2d2" filter="url(#b4)"/><ellipse cx="250" cy="528" rx="30" ry="6" fill="#b0e2d2" filter="url(#b4)"/><ellipse cx="160" cy="545" rx="18" ry="30" fill="#b0e2d2" filter="url(#b6)"/><ellipse cx="270" cy="505" rx="14" ry="22" fill="#1d4fa6" filter="url(#b5)"/><ellipse cx="225" cy="640" rx="20" ry="20" fill="#7cc6d8" filter="url(#b6)"/><ellipse cx="160" cy="660" rx="30" ry="25" fill="#a8d8c8" filter="url(#b8)"/><ellipse cx="215" cy="770" rx="55" ry="28" fill="#7ac4d8" filter="url(#b10)"/><ellipse cx="180" cy="790" rx="30" ry="12" fill="#b0dcc8" filter="url(#b6)"/><path d="M55.0,470.0 C70.8,436.7 133.8,465.0 150.0,470.0 C166.2,475.0 152.3,490.0 152.0,500.0 C151.7,510.0 150.0,520.8 148.0,530.0 C146.0,539.2 143.3,546.7 140.0,555.0 C136.7,563.3 132.7,572.5 128.0,580.0 C123.3,587.5 116.7,593.3 112.0,600.0 C107.3,606.7 103.3,613.3 100.0,620.0 C96.7,626.7 95.3,633.3 92.0,640.0 C88.7,646.7 86.2,655.0 80.0,660.0 C73.8,665.0 59.2,701.7 55.0,670.0 C50.8,638.3 39.2,503.3 55.0,470.0 Z" fill="#c49a4c" filter="url(#b5)"/><path d="M55.0,470.0 C68.3,447.5 120.8,466.7 135.0,470.0 C149.2,473.3 139.5,481.7 140.0,490.0 C140.5,498.3 139.7,510.8 138.0,520.0 C136.3,529.2 133.0,537.5 130.0,545.0 C127.0,552.5 123.7,559.2 120.0,565.0 C116.3,570.8 112.2,575.5 108.0,580.0 C103.8,584.5 99.7,588.7 95.0,592.0 C90.3,595.3 86.7,597.8 80.0,600.0 C73.3,602.2 59.2,626.7 55.0,605.0 C50.8,583.3 41.7,492.5 55.0,470.0 Z" fill="#9a4216" filter="url(#b6)"/><ellipse cx="76" cy="528" rx="18" ry="50" fill="#7a1a06" filter="url(#b6)"/><ellipse cx="100" cy="500" rx="14" ry="16" fill="#8a2e10" filter="url(#b6)"/><ellipse cx="118" cy="505" rx="8" ry="10" fill="#b07a34" filter="url(#b4)"/><ellipse cx="148" cy="505" rx="7" ry="22" fill="#d6d69a" filter="url(#b5)"/><ellipse cx="122" cy="612" rx="9" ry="26" fill="#2a66b4" transform="rotate(25 122 612)" filter="url(#b5)"/><ellipse cx="118" cy="648" rx="14" ry="10" fill="#a8dcd0" filter="url(#b5)"/><ellipse cx="85" cy="745" rx="28" ry="62" fill="#c49a4c" filter="url(#b8)"/><ellipse cx="120" cy="775" rx="18" ry="25" fill="#c8a860" filter="url(#b6)"/><ellipse cx="95" cy="690" rx="18" ry="18" fill="#c8a860" filter="url(#b6)"/><ellipse cx="112" cy="720" rx="8" ry="8" fill="#b0e2d2" filter="url(#b3)"/><ellipse cx="122" cy="770" rx="6" ry="6" fill="#7ecbd8" filter="url(#b2)"/><ellipse cx="165" cy="770" rx="12" ry="8" fill="#c8a860" filter="url(#b4)"/><ellipse cx="85" cy="662" rx="22" ry="16" fill="#c8a860" filter="url(#b5)"/><ellipse cx="135" cy="778" rx="28" ry="22" fill="#c8b474" filter="url(#b8)"/><ellipse cx="178" cy="792" rx="22" ry="10" fill="#d0d8a0" filter="url(#b6)"/><ellipse cx="143" cy="738" rx="7" ry="5" fill="#1a4aa8" filter="url(#b3)"/><ellipse cx="125" cy="670" rx="12" ry="10" fill="#d0d8a0" filter="url(#b4)"/><ellipse cx="158" cy="708" rx="30" ry="15" fill="#c49a4c" filter="url(#b5)"/><ellipse cx="195" cy="715" rx="18" ry="10" fill="#c49a4c" filter="url(#b4)"/><ellipse cx="210" cy="722" rx="8" ry="7" fill="#c8a050" filter="url(#b3)"/><ellipse cx="140" cy="720" rx="12" ry="9" fill="#c8a050" filter="url(#b4)"/><ellipse cx="180" cy="610" rx="45" ry="45" fill="#d6dca0" filter="url(#b8)"/><ellipse cx="176" cy="612" rx="31" ry="34" fill="#c49a4c" filter="url(#b4)"/><ellipse cx="182" cy="606" rx="24" ry="25" fill="#a0541e" filter="url(#b3)"/><ellipse cx="186" cy="600" rx="18" ry="18" fill="#c08a40" filter="url(#b2)"/><ellipse cx="185" cy="601" rx="14.7" ry="14.7" fill="#7a1a06" filter="url(#b1)"/><ellipse cx="201" cy="570" rx="10" ry="10" fill="#d8c888" filter="url(#b2)"/><ellipse cx="201" cy="570" rx="6.5" ry="6.5" fill="#7a1a06" filter="url(#b1)"/><ellipse cx="198.7" cy="628.6" rx="10" ry="10" fill="#c49a4c" filter="url(#b2)"/><ellipse cx="198.7" cy="628.6" rx="6.8" ry="6.8" fill="#7a1a06" filter="url(#b1)"/><ellipse cx="205" cy="556" rx="24" ry="8" fill="#1a4aa8" transform="rotate(10 205 556)" filter="url(#b4)"/><ellipse cx="222" cy="620" rx="4" ry="4" fill="#d8d8a0" filter="url(#b2)"/><ellipse cx="228" cy="640" rx="4" ry="4" fill="#d8d8a0" filter="url(#b2)"/><ellipse cx="226" cy="660" rx="4" ry="4" fill="#d8d8a0" filter="url(#b2)"/><ellipse cx="213" cy="589" rx="4" ry="4" fill="#d8d8a0" filter="url(#b2)"/><ellipse cx="168" cy="650" rx="4" ry="4" fill="#d8d8a0" filter="url(#b2)"/><ellipse cx="150" cy="660" rx="4" ry="4" fill="#d8d8a0" filter="url(#b2)"/><ellipse cx="309.5" cy="753.3" rx="11" ry="11" fill="#e0d090" filter="url(#b2)"/><ellipse cx="309.5" cy="753.3" rx="7" ry="7" fill="#7a1a06" filter="url(#b1)"/><ellipse cx="322" cy="752" rx="4" ry="4" fill="#d8d8a0" filter="url(#b2)"/><rect x="282.5" y="483.5" width="29" height="229.5" fill="url(#stripg)" fill-opacity="0.78"/><path d="M282.5,483.5 V713 M311.5,483.5 V713" stroke="#000" stroke-width="1.6"/><polyline points="65.5,676.3 70.0,685.0 74.7,692.8 80.0,703.0 85.7,711.0 100.4,713.0 110.0,714.0 116.0,720.0 128.0,723.0 134.0,730.0 146.0,733.0 155.0,737.0 170.0,738.7 190.0,741.0 206.8,747.8 243.4,753.3 255.0,753.0 265.5,758.8 287.5,766.2 300.0,768.0 316.8,769.8 331.5,771.7 345.0,771.0 360.8,768.0 370.0,762.0 379.2,751.5 393.9,744.2 400.0,744.0 412.2,751.5 415.0,752.0 420.0,747.0 426.9,744.2 435.0,743.0 445.5,740.0" fill="none" stroke="#000" stroke-width="2.2" stroke-linejoin="round"/><polygon points="244.2,535.1 247.3,535.1 250.5,535.2 253.7,535.3 256.8,535.5 260.0,535.8 263.1,536.1 266.3,536.4 269.4,536.8 272.5,537.3 275.5,537.8 278.6,538.4 281.6,539.0 284.6,539.7 287.6,540.4 290.6,541.2 293.5,542.0 296.4,542.9 299.3,543.8 302.1,544.8 304.9,545.8 307.6,546.9 310.3,548.0 313.0,549.1 315.7,550.3 318.3,551.6 320.8,552.9 323.3,554.2 325.8,555.6 328.2,557.0 330.6,558.4 333.0,559.9 335.2,561.5 337.5,563.0 339.7,564.6 341.8,566.3 344.0,567.9 346.0,569.6 348.0,571.4 350.0,573.1 351.9,574.9 353.8,576.8 355.6,578.6 357.4,580.5 359.1,582.4 360.8,584.4 362.5,586.3 364.0,588.3 365.6,590.3 367.1,592.4 368.5,594.4 370.0,596.5 371.3,598.6 372.6,600.8 373.9,602.9 375.1,605.1 376.3,607.2 377.5,609.4 378.6,611.7 379.6,613.9 380.6,616.1 381.6,618.4 382.5,620.7 383.4,623.0 384.3,625.3 385.1,627.6 385.8,629.9 386.6,632.3 387.2,634.6 387.9,637.0 388.5,639.3 389.0,641.7 389.6,644.1 390.0,646.5 390.5,648.9 390.9,651.3 391.3,653.7 391.6,656.1 391.9,658.5 392.2,661.0 392.4,663.4 392.6,665.8 392.7,668.3 392.8,670.7 392.9,673.1 392.9,675.6 392.9,678.0 392.9,680.4 392.8,682.9 392.7,685.3 392.6,687.7 392.4,690.2 392.2,692.6 391.9,695.0 391.7,697.4 391.3,699.9 391.0,702.3 390.6,704.7 390.2,707.1 389.7,709.5 389.2,711.9 388.7,714.2 388.1,716.6 387.5,719.0 386.9,721.3 386.3,723.7 385.6,726.0 384.8,728.3 384.0,730.6 383.2,732.9 382.4,735.2 381.5,737.5 380.6,739.8 379.7,742.0 378.7,744.3 377.7,746.5 376.6,748.7 375.6,750.9 374.4,753.0 373.3,755.2 372.1,757.3 370.9,759.5 369.6,761.6 368.3,763.6 367.0,765.7 365.6,767.7 364.2,769.8 362.8,771.7 361.3,773.7 359.8,775.7 358.3,777.6 356.7,779.5 355.1,781.4 353.5,783.2 351.8,785.1 350.1,786.9 348.3,788.6 346.5,790.4 344.7,792.1 342.9,793.8 341.0,795.4 339.1,797.0 337.1,798.6 335.1,800.2 333.1,801.7 331.1,803.2 329.0,804.7 326.9,806.1 324.8,807.5 322.6,808.9 320.4,810.2 318.2,811.5 315.9,812.7 313.6,813.9 311.3,815.1 309.0,816.2 306.6,817.3 304.2,818.4 301.8,819.4 299.3,820.4 296.9,821.3 294.4,822.2 291.9,823.0 289.3,823.8 286.8,824.6 284.2,825.3 281.6,826.0 279.0,826.6 276.4,827.2 273.8,827.7 271.1,828.2 268.5,828.6 265.8,829.0 263.1,829.4 260.4,829.7 257.7,829.9 255.0,830.2 252.3,830.3 249.6,830.4 246.9,830.5 244.2,830.5 241.4,830.5 238.7,830.4 236.0,830.3 233.3,830.2 230.6,829.9 227.9,829.7 225.2,829.4 222.5,829.0 219.9,828.6 217.2,828.2 214.6,827.7 211.9,827.2 209.3,826.6 206.7,826.0 204.1,825.3 201.5,824.6 199.0,823.8 196.5,823.0 193.9,822.2 191.5,821.3 189.0,820.4 186.5,819.4 184.1,818.4 181.7,817.3 179.4,816.2 177.0,815.1 174.7,813.9 172.4,812.7 170.2,811.5 167.9,810.2 165.7,808.9 163.6,807.5 161.4,806.1 159.3,804.7 157.2,803.2 155.2,801.7 153.2,800.2 151.2,798.6 149.2,797.0 147.3,795.4 145.4,793.8 143.6,792.1 141.8,790.4 140.0,788.6 138.3,786.9 136.5,785.1 134.9,783.2 133.2,781.4 131.6,779.5 130.0,777.6 128.5,775.7 127.0,773.7 125.5,771.7 124.1,769.8 122.7,767.7 121.3,765.7 120.0,763.6 118.7,761.6 117.4,759.5 116.2,757.3 115.0,755.2 113.9,753.0 112.8,750.9 111.7,748.7 110.6,746.5 109.6,744.3 108.6,742.0 107.7,739.8 106.8,737.5 105.9,735.2 105.1,732.9 104.3,730.6 103.5,728.3 102.8,726.0 102.1,723.7 101.4,721.3 100.8,719.0 100.2,716.6 99.6,714.2 99.1,711.9 98.6,709.5 98.1,707.1 97.7,704.7 97.3,702.3 97.0,699.9 96.7,697.4 96.4,695.0 96.1,692.6 95.9,690.2 95.7,687.7 95.6,685.3 95.5,682.9 95.4,680.4 95.4,678.0 95.4,675.6 95.4,673.1 95.5,670.7 95.6,668.3 95.8,665.8 95.9,663.4 96.2,661.0 96.4,658.5 96.7,656.1 97.0,653.7 97.4,651.3 97.8,648.9 98.3,646.5 98.8,644.1 99.3,641.7 99.8,639.3 100.4,637.0 101.1,634.6 101.8,632.3 102.5,629.9 103.3,627.6 104.1,625.3 104.9,623.0 105.8,620.7 106.7,618.4 107.7,616.1 108.7,613.9 109.8,611.7 110.9,609.4 112.0,607.2 113.2,605.1 114.4,602.9 115.7,600.8 117.0,598.6 118.4,596.5 119.8,594.4 121.2,592.4 122.7,590.3 124.3,588.3 125.9,586.3 127.5,584.4 129.2,582.4 130.9,580.5 132.7,578.6 134.5,576.8 136.4,574.9 138.3,573.1 140.3,571.4 142.3,569.6 144.4,567.9 146.5,566.3 148.6,564.6 150.8,563.0 153.1,561.5 155.4,559.9 157.7,558.4 160.1,557.0 162.5,555.6 165.0,554.2 167.5,552.9 170.1,551.6 172.7,550.3 175.3,549.1 178.0,548.0 180.7,546.9 183.4,545.8 186.2,544.8 189.1,543.8 191.9,542.9 194.8,542.0 197.7,541.2 200.7,540.4 203.7,539.7 206.7,539.0 209.7,538.4 212.8,537.8 215.9,537.3 219.0,536.8 222.1,536.4 225.2,536.1 228.3,535.8 231.5,535.5 234.6,535.3 237.8,535.2 241.0,535.1" fill="none" stroke="#e3141b" stroke-width="2" stroke-dasharray="11 10.5"/><path d="M233.5,680.1 H256.5 M244.7,667.5 V692.5" stroke="#e3141b" stroke-width="2"/></g>
<rect x="65.5" y="483.5" width="380.0" height="319.0" fill="none" stroke="#555" stroke-width="0.8"/>
<line x1="60" y1="490.0" x2="65.5" y2="490.0" stroke="#555" stroke-width="0.8"/>
<text x="54.6" y="494.5" font-size="13" text-anchor="end" fill="#231f20">50° N</text>
<line x1="60" y1="534.6" x2="65.5" y2="534.6" stroke="#555" stroke-width="0.8"/>
<text x="54.6" y="539.1" font-size="13" text-anchor="end" fill="#231f20">40° N</text>
<line x1="60" y1="579.3" x2="65.5" y2="579.3" stroke="#555" stroke-width="0.8"/>
<text x="54.6" y="583.8" font-size="13" text-anchor="end" fill="#231f20">30° N</text>
<line x1="60" y1="623.9" x2="65.5" y2="623.9" stroke="#555" stroke-width="0.8"/>
<text x="54.6" y="628.4" font-size="13" text-anchor="end" fill="#231f20">20° N</text>
<line x1="60" y1="668.5" x2="65.5" y2="668.5" stroke="#555" stroke-width="0.8"/>
<text x="54.6" y="673.0" font-size="13" text-anchor="end" fill="#231f20">10° N</text>
<line x1="60" y1="713.1" x2="65.5" y2="713.1" stroke="#555" stroke-width="0.8"/>
<text x="54.6" y="717.6" font-size="13" text-anchor="end" fill="#231f20">0°</text>
<line x1="60" y1="757.8" x2="65.5" y2="757.8" stroke="#555" stroke-width="0.8"/>
<text x="54.6" y="762.3" font-size="13" text-anchor="end" fill="#231f20">10° S</text>
<text transform="translate(12,643) rotate(-90)" font-size="14" text-anchor="middle" textLength="57" lengthAdjust="spacingAndGlyphs" fill="#231f20">Latitude</text>
<line x1="65.8" y1="802.5" x2="65.8" y2="808.3" stroke="#555" stroke-width="0.8"/>
<text x="65.8" y="825.4" font-size="13" text-anchor="middle" fill="#231f20">120° E</text>
<line x1="154.6" y1="802.5" x2="154.6" y2="808.3" stroke="#555" stroke-width="0.8"/>
<text x="154.6" y="825.4" font-size="13" text-anchor="middle" fill="#231f20">140° E</text>
<line x1="244.2" y1="802.5" x2="244.2" y2="808.3" stroke="#555" stroke-width="0.8"/>
<text x="244.2" y="825.4" font-size="13" text-anchor="middle" fill="#231f20">160° E</text>
<line x1="333.75" y1="802.5" x2="333.75" y2="808.3" stroke="#555" stroke-width="0.8"/>
<text x="333.75" y="825.4" font-size="13" text-anchor="middle" fill="#231f20">180°</text>
<line x1="422.5" y1="802.5" x2="422.5" y2="808.3" stroke="#555" stroke-width="0.8"/>
<text x="422.5" y="825.4" font-size="13" text-anchor="middle" fill="#231f20">160° W</text>
<text x="255.4" y="844.2" font-size="14.5" text-anchor="middle" textLength="70.8" lengthAdjust="spacingAndGlyphs" fill="#231f20">Longitude</text>
<text x="0" y="475.3" font-size="30" font-weight="bold" fill="#000">c</text>
<rect x="445.5" y="483.5" width="66.5" height="319" fill="#fff"/>
<g clip-path="url(#csideclip)">
<polygon points="451.2,483.5 445.7,490.3 446.9,499.3 451.3,510.6 456.0,519.7 461.7,528.7 461.0,534.3 456.6,542.2 460.7,549.0 455.0,558.0 447.0,562.6 446.8,567.0 455.7,573.8 464.7,582.9 472.7,591.9 479.5,601.0 480.8,610.0 485.3,619.0 486.6,625.8 480.8,630.3 474.0,634.8 471.9,641.6 475.0,647.0 473.9,653.5 475.0,662.6 474.9,669.3 478.3,678.4 482.8,685.0 481.8,692.0 486.6,698.7 492.3,704.3 491.0,712.2 503.0,712.2 506.3,704.3 498.6,698.7 489.8,692.0 488.8,685.0 484.3,678.4 480.9,669.3 483.0,662.6 481.9,653.5 485.0,647.0 483.9,641.6 484.0,634.8 490.8,630.3 498.6,625.8 495.3,619.0 490.8,610.0 487.5,601.0 480.7,591.9 470.7,582.9 461.7,573.8 454.8,567.0 457.0,562.6 467.0,558.0 474.7,549.0 476.6,542.2 479.0,534.3 473.7,528.7 466.0,519.7 459.3,510.6 456.9,499.3 453.7,490.3 457.2,483.5" fill="#b9e0b6" stroke="#b9e0b6" stroke-width="1.5" stroke-linejoin="round"/>
<path d="M454.2,483.5 C453.4,484.6 450.1,487.7 449.7,490.3 C449.3,492.9 451.0,495.9 451.9,499.3 C452.8,502.7 453.8,507.2 455.3,510.6 C456.8,514.0 458.9,516.7 461.0,519.7 C463.1,522.7 466.2,526.3 467.7,528.7 C469.2,531.1 470.2,532.0 470.0,534.3 C469.8,536.5 467.0,539.8 466.6,542.2 C466.2,544.7 468.6,546.4 467.7,549.0 C466.8,551.6 463.6,555.7 461.0,558.0 C458.4,560.3 453.7,561.1 452.0,562.6 C450.3,564.1 449.7,565.1 450.8,567.0 C451.9,568.9 455.9,571.1 458.7,573.8 C461.5,576.4 464.7,579.9 467.7,582.9 C470.7,585.9 474.1,588.9 476.7,591.9 C479.3,594.9 482.0,598.0 483.5,601.0 C485.0,604.0 484.7,607.0 485.8,610.0 C486.9,613.0 489.2,616.4 490.3,619.0 C491.4,621.6 493.4,623.9 492.6,625.8 C491.9,627.7 488.1,628.8 485.8,630.3 C483.5,631.8 480.3,632.9 479.0,634.8 C477.7,636.7 477.7,639.6 477.9,641.6 C478.1,643.6 480.0,645.0 480.0,647.0 C480.0,649.0 478.1,650.9 477.9,653.5 C477.7,656.1 479.0,660.0 479.0,662.6 C479.0,665.2 477.5,666.7 477.9,669.3 C478.3,671.9 480.0,675.8 481.3,678.4 C482.6,681.0 485.1,682.7 485.8,685.0 C486.6,687.3 484.7,689.7 485.8,692.0 C486.9,694.3 490.4,696.7 492.6,698.7 C494.9,700.8 498.6,702.0 499.3,704.3 C500.0,706.5 497.4,710.9 497.0,712.2" fill="none" stroke="#2ca02c" stroke-width="2.4"/>
<path d="M455.3,483.5 C455.3,486.9 454.7,496.4 455.3,503.9 C455.9,511.4 457.0,520.1 458.7,528.7 C460.4,537.4 463.2,547.5 465.5,555.8 C467.8,564.1 470.1,571.6 472.2,578.4 C474.3,585.2 476.6,588.9 477.9,596.4 C479.2,603.9 479.5,614.5 480.1,623.5 C480.7,632.5 481.1,642.2 481.3,650.6 C481.5,659.0 481.3,663.6 481.3,673.9 C481.3,684.2 481.3,705.8 481.3,712.2" fill="none" stroke="#000" stroke-width="2.6" stroke-dasharray="2.2 2.2"/>
</g>
<rect x="445.5" y="483.5" width="66.5" height="319" fill="none" stroke="#555" stroke-width="0.8"/>
<line x1="478" y1="478" x2="478" y2="483.5" stroke="#555" stroke-width="0.8"/>
<line x1="478" y1="802.5" x2="478" y2="808.3" stroke="#555" stroke-width="0.8"/>
<line x1="512" y1="478" x2="512" y2="483.5" stroke="#555" stroke-width="0.8"/>
<line x1="512" y1="802.5" x2="512" y2="808.3" stroke="#555" stroke-width="0.8"/>
<text x="476.5" y="825.4" font-size="13" text-anchor="middle" textLength="29.5" lengthAdjust="spacingAndGlyphs" fill="#231f20">−200</text>
<text x="512.5" y="825.4" font-size="13" text-anchor="middle" textLength="28.4" lengthAdjust="spacingAndGlyphs" fill="#231f20">−100</text>
<text x="478.75" y="843" font-size="14.5" text-anchor="middle" textLength="50" lengthAdjust="spacingAndGlyphs" fill="#231f20">Gravity</text>
<text x="479" y="859.6" font-size="14.5" text-anchor="middle" textLength="47" lengthAdjust="spacingAndGlyphs" fill="#231f20">(mGal)</text>
<text transform="translate(498.5,533.7) rotate(90)" font-size="14.5" text-anchor="middle" textLength="91.5" lengthAdjust="spacingAndGlyphs" fill="#2ca02c">Observations</text>
<text transform="translate(459,741.5) rotate(90)" font-size="14.5" text-anchor="middle" textLength="93" lengthAdjust="spacingAndGlyphs" fill="#000">Plume model</text>
<rect x="518" y="499.3" width="19" height="287" fill="url(#elevV)" stroke="#555" stroke-width="0.6"/>
<line x1="537" y1="499.3" x2="542" y2="499.3" stroke="#555" stroke-width="0.8"/>
<text x="549" y="504.1" font-size="13.5" fill="#231f20">200</text>
<line x1="537" y1="531.1" x2="542" y2="531.1" stroke="#555" stroke-width="0.8"/>
<text x="549" y="535.9" font-size="13.5" fill="#231f20">150</text>
<line x1="537" y1="563.0" x2="542" y2="563.0" stroke="#555" stroke-width="0.8"/>
<text x="549" y="567.8" font-size="13.5" fill="#231f20">100</text>
<line x1="537" y1="594.9" x2="542" y2="594.9" stroke="#555" stroke-width="0.8"/>
<text x="549" y="599.6" font-size="13.5" fill="#231f20">50</text>
<line x1="537" y1="626.7" x2="542" y2="626.7" stroke="#555" stroke-width="0.8"/>
<text x="549" y="631.5" font-size="13.5" fill="#231f20">0</text>
<line x1="537" y1="658.5" x2="542" y2="658.5" stroke="#555" stroke-width="0.8"/>
<text x="549" y="663.3" font-size="13.5" fill="#231f20">−50</text>
<line x1="537" y1="690.4" x2="542" y2="690.4" stroke="#555" stroke-width="0.8"/>
<text x="549" y="695.2" font-size="13.5" fill="#231f20">−100</text>
<line x1="537" y1="722.2" x2="542" y2="722.2" stroke="#555" stroke-width="0.8"/>
<text x="549" y="727.0" font-size="13.5" fill="#231f20">−150</text>
<line x1="537" y1="754.1" x2="542" y2="754.1" stroke="#555" stroke-width="0.8"/>
<text x="549" y="758.9" font-size="13.5" fill="#231f20">−200</text>
<line x1="537" y1="786.0" x2="542" y2="786.0" stroke="#555" stroke-width="0.8"/>
<text x="549" y="790.8" font-size="13.5" fill="#231f20">−250</text>
<text transform="translate(589,642.5) rotate(90)" font-size="14.5" text-anchor="middle" textLength="153" lengthAdjust="spacingAndGlyphs" fill="#231f20">Free-air gravity (mGal)</text>
<g clip-path="url(#dclip)"><rect x="684.4" y="505.5" width="380.1" height="318.70000000000005" fill="#68c8d8"/><rect x="684.4" y="505.5" width="380.1" height="318.70000000000005" fill="url(#dgrad)"/><polygon points="709.3,649.5 772.5,701.0 941.0,701.8 1010.8,636.8 1010.8,654.2 941.0,719.9 772.5,718.8 709.3,667.5" fill="#e8a24c" fill-opacity="0.5"/><polyline points="709.3,649.5 772.5,701.0 941.0,701.8 1010.8,636.8" fill="none" stroke="#f58d1e" stroke-width="2"/><polyline points="709.3,667.5 772.5,718.8 941.0,719.9 1010.8,654.2" fill="none" stroke="#f58d1e" stroke-width="2"/><rect x="900.7" y="505.5" width="30" height="230" fill="#3aa860" fill-opacity="0.45"/><path d="M900.7,505.5 V735.4 M930.7,505.5 V735.4" stroke="#000" stroke-width="1.6"/><polyline points="684.4,698.8 688.9,707.5 693.6,715.3 698.9,725.5 704.6,733.5 719.3,735.5 728.9,736.5 734.9,742.5 746.9,745.5 752.9,752.5 764.9,755.5 773.9,759.5 788.9,761.2 808.9,763.5 825.7,770.3 862.3,775.8 873.9,775.5 884.4,781.3 906.4,788.7 918.9,790.5 935.7,792.3 950.4,794.2 963.9,793.5 979.7,790.5 988.9,784.5 998.1,774.0 1012.8,766.7 1018.9,766.5 1031.1,774.0 1033.9,774.5 1038.9,769.5 1045.8,766.7 1053.9,765.5 1064.4,762.5" fill="none" stroke="#000" stroke-width="2.2" stroke-linejoin="round"/><line x1="1018" y1="808" x2="1019" y2="815" stroke="#000" stroke-width="1.5"/><polygon points="863.0,554.9 866.2,554.9 869.4,555.0 872.5,555.1 875.7,555.3 878.9,555.6 882.1,555.9 885.2,556.2 888.3,556.7 891.5,557.1 894.6,557.6 897.6,558.2 900.7,558.8 903.7,559.5 906.7,560.2 909.7,561.0 912.6,561.9 915.5,562.7 918.4,563.7 921.3,564.6 924.1,565.7 926.8,566.7 929.6,567.8 932.3,569.0 934.9,570.2 937.5,571.5 940.1,572.8 942.6,574.1 945.1,575.5 947.5,576.9 949.9,578.3 952.3,579.8 954.6,581.4 956.8,582.9 959.0,584.5 961.2,586.2 963.3,587.9 965.3,589.6 967.3,591.3 969.3,593.1 971.2,594.9 973.1,596.7 974.9,598.6 976.7,600.5 978.4,602.4 980.1,604.3 981.7,606.3 983.3,608.3 984.9,610.3 986.4,612.3 987.8,614.4 989.2,616.5 990.6,618.6 991.9,620.7 993.1,622.9 994.3,625.0 995.5,627.2 996.7,629.4 997.7,631.6 998.8,633.9 999.8,636.1 1000.7,638.4 1001.7,640.7 1002.5,643.0 1003.4,645.3 1004.2,647.6 1004.9,649.9 1005.6,652.2 1006.3,654.6 1006.9,656.9 1007.5,659.3 1008.0,661.7 1008.5,664.1 1009.0,666.4 1009.4,668.8 1009.8,671.2 1010.2,673.6 1010.5,676.1 1010.8,678.5 1011.0,680.9 1011.2,683.3 1011.4,685.7 1011.5,688.2 1011.6,690.6 1011.7,693.0 1011.7,695.5 1011.7,697.9 1011.6,700.3 1011.6,702.7 1011.4,705.2 1011.3,707.6 1011.1,710.0 1010.9,712.4 1010.6,714.9 1010.3,717.3 1010.0,719.7 1009.6,722.1 1009.2,724.5 1008.8,726.9 1008.3,729.3 1007.8,731.6 1007.2,734.0 1006.7,736.4 1006.0,738.7 1005.4,741.1 1004.7,743.4 1004.0,745.7 1003.3,748.0 1002.5,750.3 1001.7,752.6 1000.8,754.9 999.9,757.2 999.0,759.4 998.0,761.7 997.1,763.9 996.0,766.1 995.0,768.3 993.9,770.5 992.8,772.6 991.6,774.8 990.4,776.9 989.2,779.0 987.9,781.1 986.6,783.1 985.3,785.2 983.9,787.2 982.5,789.2 981.0,791.2 979.6,793.2 978.1,795.1 976.5,797.0 974.9,798.9 973.3,800.8 971.7,802.6 970.0,804.4 968.3,806.2 966.5,807.9 964.8,809.7 962.9,811.4 961.1,813.0 959.2,814.7 957.3,816.3 955.4,817.9 953.4,819.4 951.4,820.9 949.3,822.4 947.3,823.9 945.1,825.3 943.0,826.7 940.9,828.0 938.7,829.3 936.4,830.6 934.2,831.8 931.9,833.0 929.6,834.2 927.3,835.3 924.9,836.4 922.5,837.4 920.1,838.4 917.7,839.4 915.3,840.3 912.8,841.2 910.3,842.0 907.8,842.8 905.2,843.6 902.7,844.3 900.1,844.9 897.5,845.5 894.9,846.1 892.3,846.7 889.7,847.1 887.1,847.6 884.4,848.0 881.7,848.3 879.1,848.6 876.4,848.9 873.7,849.1 871.0,849.2 868.3,849.4 865.7,849.4 863.0,849.5 860.3,849.4 857.6,849.4 854.9,849.2 852.2,849.1 849.5,848.9 846.8,848.6 844.2,848.3 841.5,848.0 838.9,847.6 836.2,847.1 833.6,846.7 831.0,846.1 828.4,845.5 825.8,844.9 823.2,844.3 820.7,843.6 818.1,842.8 815.6,842.0 813.1,841.2 810.7,840.3 808.2,839.4 805.8,838.4 803.4,837.4 801.0,836.4 798.6,835.3 796.3,834.2 794.0,833.0 791.7,831.8 789.5,830.6 787.3,829.3 785.1,828.0 782.9,826.7 780.8,825.3 778.7,823.9 776.6,822.4 774.6,820.9 772.5,819.4 770.6,817.9 768.6,816.3 766.7,814.7 764.8,813.0 763.0,811.4 761.2,809.7 759.4,807.9 757.6,806.2 755.9,804.4 754.2,802.6 752.6,800.8 751.0,798.9 749.4,797.0 747.9,795.1 746.4,793.2 744.9,791.2 743.4,789.2 742.0,787.2 740.7,785.2 739.3,783.1 738.0,781.1 736.8,779.0 735.5,776.9 734.3,774.8 733.2,772.6 732.0,770.5 730.9,768.3 729.9,766.1 728.9,763.9 727.9,761.7 726.9,759.4 726.0,757.2 725.1,754.9 724.3,752.6 723.4,750.3 722.7,748.0 721.9,745.7 721.2,743.4 720.5,741.1 719.9,738.7 719.3,736.4 718.7,734.0 718.1,731.6 717.6,729.3 717.2,726.9 716.7,724.5 716.3,722.1 716.0,719.7 715.6,717.3 715.3,714.9 715.1,712.4 714.8,710.0 714.6,707.6 714.5,705.2 714.4,702.7 714.3,700.3 714.2,697.9 714.2,695.5 714.2,693.0 714.3,690.6 714.4,688.2 714.5,685.7 714.7,683.3 714.9,680.9 715.1,678.5 715.4,676.1 715.7,673.6 716.1,671.2 716.5,668.8 716.9,666.4 717.4,664.1 717.9,661.7 718.4,659.3 719.0,656.9 719.6,654.6 720.3,652.2 721.0,649.9 721.8,647.6 722.6,645.3 723.4,643.0 724.3,640.7 725.2,638.4 726.1,636.1 727.1,633.9 728.2,631.6 729.3,629.4 730.4,627.2 731.6,625.0 732.8,622.9 734.1,620.7 735.4,618.6 736.7,616.5 738.1,614.4 739.6,612.3 741.1,610.3 742.6,608.3 744.2,606.3 745.8,604.3 747.5,602.4 749.2,600.5 751.0,598.6 752.8,596.7 754.7,594.9 756.6,593.1 758.6,591.3 760.6,589.6 762.7,587.9 764.8,586.2 766.9,584.5 769.1,582.9 771.4,581.4 773.7,579.8 776.0,578.3 778.4,576.9 780.8,575.5 783.3,574.1 785.8,572.8 788.4,571.5 791.0,570.2 793.7,569.0 796.3,567.8 799.1,566.7 801.8,565.7 804.7,564.6 807.5,563.7 810.4,562.7 813.3,561.9 816.2,561.0 819.2,560.2 822.2,559.5 825.2,558.8 828.3,558.2 831.4,557.6 834.5,557.1 837.6,556.7 840.7,556.2 843.9,555.9 847.0,555.6 850.2,555.3 853.4,555.1 856.6,555.0 859.8,554.9" fill="none" stroke="#e3141b" stroke-width="2" stroke-dasharray="11 10.5"/><path d="M851,701.7 H877 M863.3,689 V714.5" stroke="#e3141b" stroke-width="2"/></g>
<rect x="684.4" y="505.5" width="380.1" height="318.70000000000005" fill="none" stroke="#666" stroke-width="0.6"/>
<rect x="684.5" y="442.5" width="380" height="63" fill="#fff" stroke="#555" stroke-width="0.8"/>
<polygon points="710.9,485.0 720.0,482.0 728.7,478.1 736.9,465.7 748.2,456.0 759.6,453.7 764.5,457.3 777.5,457.4 793.7,457.4 826.2,457.4 858.7,458.3 875.0,461.6 907.5,464.8 940.0,469.4 966.0,473.6 975.7,462.5 982.2,476.7 992.0,475.5 1000.0,484.0 1011.5,485.0 1011.5,491.0 1000.0,492.0 992.0,487.5 982.2,492.7 975.7,474.5 966.0,479.6 940.0,475.4 907.5,470.8 875.0,467.6 858.7,464.3 826.2,463.4 793.7,463.4 777.5,463.4 764.5,465.3 759.6,463.7 748.2,468.0 736.9,477.7 728.7,488.1 720.0,490.0 710.9,491.0" fill="#fdd3ad" stroke="#fdd3ad" stroke-width="1"/>
<path d="M710.9,488.0 C712.4,487.7 717.0,486.8 720.0,486.0 C723.0,485.2 725.9,485.5 728.7,483.1 C731.5,480.7 733.6,475.2 736.9,471.7 C740.1,468.2 744.4,464.2 748.2,462.0 C752.0,459.8 756.9,458.8 759.6,458.7 C762.3,458.6 761.5,461.0 764.5,461.3 C767.5,461.6 772.6,460.5 777.5,460.4 C782.4,460.2 785.6,460.4 793.7,460.4 C801.8,460.4 815.4,460.2 826.2,460.4 C837.0,460.5 850.6,460.6 858.7,461.3 C866.8,462.0 866.9,463.5 875.0,464.6 C883.1,465.7 896.7,466.5 907.5,467.8 C918.3,469.1 930.2,470.9 940.0,472.4 C949.8,473.9 960.0,477.2 966.0,476.6 C972.0,476.0 973.0,467.1 975.7,468.5 C978.4,469.9 979.5,482.5 982.2,484.7 C984.9,486.9 989.0,480.9 992.0,481.5 C995.0,482.1 996.8,486.9 1000.0,488.0 C1003.2,489.1 1009.6,488.0 1011.5,488.0" fill="none" stroke="#f59138" stroke-width="2.4"/>
<path d="M710.9,494.5 C713.9,493.4 721.9,491.5 728.7,488.0 C735.5,484.5 743.4,476.9 751.5,473.4 C759.6,469.9 767.8,468.7 777.5,466.9 C787.2,465.1 799.2,463.4 810.0,462.6 C820.8,461.8 831.7,462.1 842.5,462.0 C853.3,461.9 864.2,461.8 875.0,462.0 C885.8,462.2 896.7,462.2 907.5,463.0 C918.3,463.8 930.2,465.2 940.0,466.9 C949.8,468.6 957.9,470.7 966.0,473.4 C974.1,476.1 981.1,479.2 988.7,483.0 C996.3,486.8 1007.7,493.9 1011.5,496.1" fill="none" stroke="#000" stroke-width="2.6" stroke-dasharray="2.2 2.2"/>
<text x="689.75" y="456.1" font-size="14.5" textLength="92.6" lengthAdjust="spacingAndGlyphs" fill="#f59138">Observations</text>
<text x="741.1" y="498.4" font-size="14.5" textLength="91.6" lengthAdjust="spacingAndGlyphs" fill="#231f20">Plume model</text>
<line x1="680" y1="458.1" x2="684.5" y2="458.1" stroke="#555" stroke-width="0.8"/>
<text x="676" y="462.6" font-size="13" text-anchor="end" fill="#231f20">−2</text>
<line x1="680" y1="488.6" x2="684.5" y2="488.6" stroke="#555" stroke-width="0.8"/>
<text x="676" y="493.1" font-size="13" text-anchor="end" fill="#231f20">−3</text>
<text transform="translate(635,474) rotate(-90)" font-size="14.5" text-anchor="middle" textLength="64" lengthAdjust="spacingAndGlyphs" fill="#231f20">Elevation</text>
<text transform="translate(651,474) rotate(-90)" font-size="14.5" text-anchor="middle" textLength="31" lengthAdjust="spacingAndGlyphs" fill="#231f20">(km)</text>
<rect x="1064.5" y="505.5" width="60.8" height="318.7" fill="#fff"/>
<polygon points="1070.2,506.8 1070.2,527.0 1071.5,554.2 1071.9,575.9 1075.0,586.7 1081.7,592.0 1089.5,608.4 1097.7,624.7 1100.7,638.2 1101.4,651.8 1102.8,668.0 1100.7,684.3 1100.4,700.5 1099.0,716.8 1100.0,733.0 1104.0,733.0 1105.0,716.8 1106.4,700.5 1108.7,684.3 1114.8,668.0 1113.4,651.8 1108.7,638.2 1103.7,624.7 1095.5,608.4 1089.7,592.0 1083.0,586.7 1077.9,575.9 1075.5,554.2 1074.2,527.0 1074.2,506.8" fill="#b9e0b6" stroke="#b9e0b6" stroke-width="1"/>
<path d="M1072.2,506.8 C1072.2,510.2 1072.0,519.1 1072.2,527.0 C1072.4,534.9 1073.0,546.1 1073.5,554.2 C1074.0,562.4 1074.0,570.5 1074.9,575.9 C1075.8,581.3 1077.2,584.0 1079.0,586.7 C1080.8,589.4 1083.5,588.4 1085.7,592.0 C1088.0,595.6 1090.0,602.9 1092.5,608.4 C1095.0,613.9 1098.7,619.7 1100.7,624.7 C1102.7,629.7 1103.6,633.7 1104.7,638.2 C1105.8,642.7 1106.7,646.8 1107.4,651.8 C1108.1,656.8 1109.2,662.6 1108.8,668.0 C1108.3,673.4 1105.6,678.9 1104.7,684.3 C1103.8,689.7 1103.9,695.1 1103.4,700.5 C1103.0,705.9 1102.2,711.4 1102.0,716.8 C1101.8,722.2 1102.0,730.3 1102.0,733.0" fill="none" stroke="#2ca02c" stroke-width="2.6"/>
<path d="M1074.9,508.1 C1075.1,512.2 1075.2,524.8 1076.3,532.5 C1077.4,540.2 1079.5,547.0 1081.7,554.2 C1084.0,561.4 1087.1,568.7 1089.8,575.9 C1092.5,583.1 1095.4,590.4 1097.9,597.6 C1100.4,604.8 1103.1,612.0 1104.7,619.2 C1106.3,626.4 1106.7,633.7 1107.4,640.9 C1108.1,648.1 1108.5,654.5 1108.8,662.6 C1109.1,670.7 1109.2,678.0 1109.3,689.7 C1109.4,701.4 1109.3,725.8 1109.3,733.0" fill="none" stroke="#000" stroke-width="2.6" stroke-dasharray="2.2 2.2"/>
<rect x="1064.5" y="505.5" width="60.8" height="318.7" fill="none" stroke="#555" stroke-width="0.8"/>
<line x1="1064.5" y1="490" x2="1064.5" y2="505.5" stroke="#555" stroke-width="0.8"/>
<line x1="684.4" y1="824.2" x2="684.4" y2="830" stroke="#555" stroke-width="0.8"/>
<text x="684.4" y="847" font-size="13" text-anchor="middle" fill="#231f20">120° E</text>
<line x1="773.8" y1="824.2" x2="773.8" y2="830" stroke="#555" stroke-width="0.8"/>
<text x="773.8" y="847" font-size="13" text-anchor="middle" fill="#231f20">140° E</text>
<line x1="862.9" y1="824.2" x2="862.9" y2="830" stroke="#555" stroke-width="0.8"/>
<text x="862.9" y="847" font-size="13" text-anchor="middle" fill="#231f20">160° E</text>
<line x1="952" y1="824.2" x2="952" y2="830" stroke="#555" stroke-width="0.8"/>
<text x="952" y="847" font-size="13" text-anchor="middle" fill="#231f20">180°</text>
<line x1="1041.5" y1="824.2" x2="1041.5" y2="830" stroke="#555" stroke-width="0.8"/>
<text x="1041.5" y="847" font-size="13" text-anchor="middle" fill="#231f20">160° W</text>
<line x1="1084.4" y1="824.2" x2="1084.4" y2="830" stroke="#555" stroke-width="0.8"/>
<text x="1084.4" y="847" font-size="13" text-anchor="middle" fill="#231f20">−3</text>
<line x1="1114.7" y1="824.2" x2="1114.7" y2="830" stroke="#555" stroke-width="0.8"/>
<text x="1114.7" y="847" font-size="13" text-anchor="middle" fill="#231f20">−2</text>
<text x="874" y="867" font-size="14.5" text-anchor="middle" textLength="70.5" lengthAdjust="spacingAndGlyphs" fill="#231f20">Longitude</text>
<text x="1094.9" y="865.5" font-size="14.5" text-anchor="middle" textLength="63" lengthAdjust="spacingAndGlyphs" fill="#231f20">Elevation</text>
<text x="1094.9" y="882.5" font-size="14.5" text-anchor="middle" textLength="31" lengthAdjust="spacingAndGlyphs" fill="#231f20">(km)</text>
<rect x="1131.4" y="522.3" width="19.3" height="287" fill="url(#elevV)" stroke="#555" stroke-width="0.6"/>
<line x1="1150.7" y1="522.3" x2="1155.7" y2="522.3" stroke="#555" stroke-width="0.8"/>
<text x="1160" y="527.1" font-size="13.5" fill="#231f20">0</text>
<line x1="1150.7" y1="579.7" x2="1155.7" y2="579.7" stroke="#555" stroke-width="0.8"/>
<text x="1160" y="584.5" font-size="13.5" fill="#231f20">−1</text>
<line x1="1150.7" y1="637.1" x2="1155.7" y2="637.1" stroke="#555" stroke-width="0.8"/>
<text x="1160" y="641.9" font-size="13.5" fill="#231f20">−2</text>
<line x1="1150.7" y1="694.5" x2="1155.7" y2="694.5" stroke="#555" stroke-width="0.8"/>
<text x="1160" y="699.3" font-size="13.5" fill="#231f20">−3</text>
<line x1="1150.7" y1="751.9" x2="1155.7" y2="751.9" stroke="#555" stroke-width="0.8"/>
<text x="1160" y="756.7" font-size="13.5" fill="#231f20">−4</text>
<line x1="1150.7" y1="809.3" x2="1155.7" y2="809.3" stroke="#555" stroke-width="0.8"/>
<text x="1160" y="814.1" font-size="13.5" fill="#231f20">−5</text>
<text transform="translate(1188,666) rotate(90)" font-size="14.5" text-anchor="middle" textLength="225" lengthAdjust="spacingAndGlyphs" fill="#231f20">Geoid-referenced elevation (km)</text>
<text x="623.75" y="437" font-size="22" font-weight="bold" fill="#000">d</text>
</svg>
</body></html>
